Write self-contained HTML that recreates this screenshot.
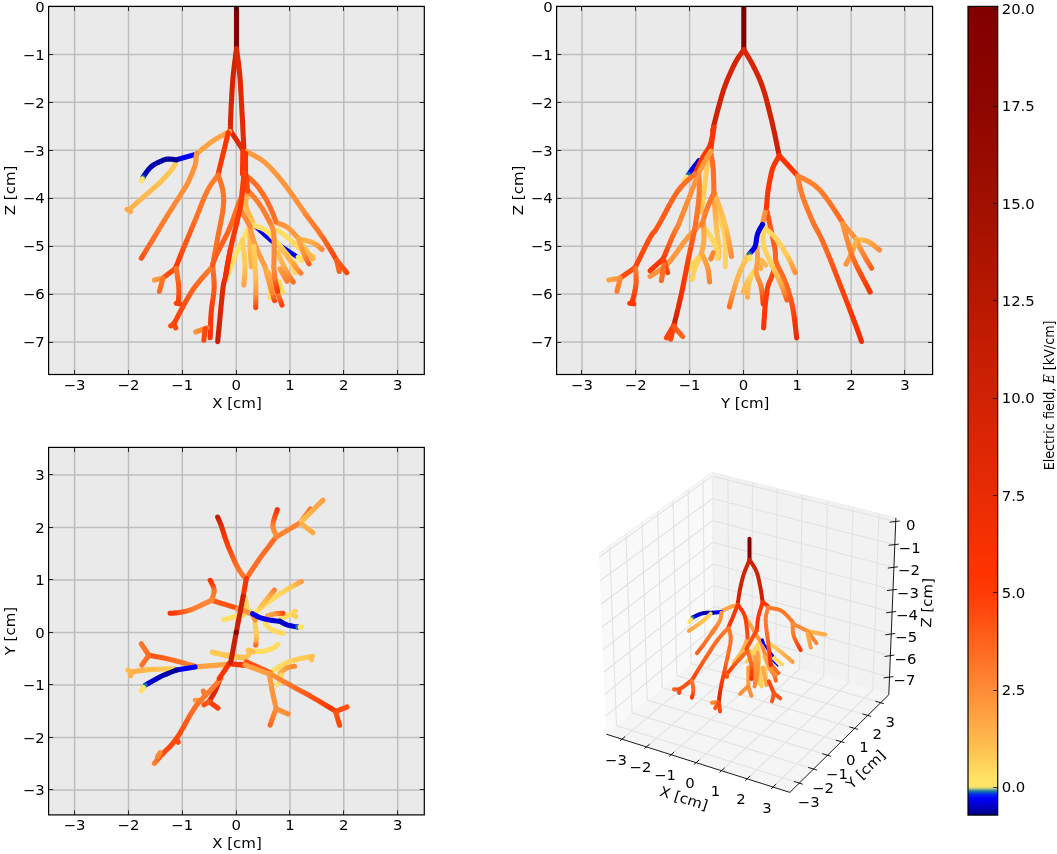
<!DOCTYPE html>
<html><head><meta charset="utf-8"><title>Streamer tree</title>
<style>
html,body{margin:0;padding:0;background:#fff}
svg{display:block}
text{font-family:"DejaVu Sans","Liberation Sans",sans-serif;font-size:13.9px;fill:#000}
.lab{font-size:14px}
</style></head><body>
<svg width="1057" height="854" viewBox="0 0 1057 854">
<defs>
<linearGradient id="g1" gradientUnits="userSpaceOnUse" x1="298.3" y1="257.1" x2="302.1" y2="260.2"><stop offset="0.000" stop-color="#ffe265"/><stop offset="0.125" stop-color="#ffe265"/><stop offset="0.250" stop-color="#ffe165"/><stop offset="0.375" stop-color="#ffe164"/><stop offset="0.500" stop-color="#ffe164"/><stop offset="0.625" stop-color="#ffe164"/><stop offset="0.750" stop-color="#ffe064"/><stop offset="0.875" stop-color="#ffe064"/><stop offset="1" stop-color="#ffe064"/></linearGradient>
<clipPath id="c2"><rect x="48.6" y="6.4" width="375.7" height="368.1"/></clipPath>
<linearGradient id="g3" gradientUnits="userSpaceOnUse" x1="236.5" y1="48.8" x2="230.2" y2="130.3"><stop offset="0.000" stop-color="#d02204"/><stop offset="0.125" stop-color="#d12204"/><stop offset="0.250" stop-color="#d22304"/><stop offset="0.375" stop-color="#d42404"/><stop offset="0.500" stop-color="#d52404"/><stop offset="0.625" stop-color="#d62404"/><stop offset="0.750" stop-color="#d72504"/><stop offset="0.875" stop-color="#d82604"/><stop offset="1" stop-color="#da2604"/></linearGradient>
<linearGradient id="g4" gradientUnits="userSpaceOnUse" x1="236.5" y1="48.8" x2="244" y2="151.6"><stop offset="0.000" stop-color="#de2804"/><stop offset="0.125" stop-color="#df2804"/><stop offset="0.250" stop-color="#e02804"/><stop offset="0.375" stop-color="#e02904"/><stop offset="0.500" stop-color="#e12904"/><stop offset="0.625" stop-color="#e12904"/><stop offset="0.750" stop-color="#e22a04"/><stop offset="0.875" stop-color="#e32a04"/><stop offset="1" stop-color="#e32a04"/></linearGradient>
<linearGradient id="g5" gradientUnits="userSpaceOnUse" x1="176.4" y1="160.3" x2="128.8" y2="209.9"><stop offset="0.000" stop-color="#ffce59"/><stop offset="0.125" stop-color="#ffca56"/><stop offset="0.250" stop-color="#ffc654"/><stop offset="0.375" stop-color="#ffc251"/><stop offset="0.500" stop-color="#ffbe4f"/><stop offset="0.625" stop-color="#ffbb4e"/><stop offset="0.750" stop-color="#ffb84c"/><stop offset="0.875" stop-color="#ffb54b"/><stop offset="1" stop-color="#ffb24a"/></linearGradient>
<linearGradient id="g6" gradientUnits="userSpaceOnUse" x1="176.4" y1="159.8" x2="143.1" y2="177.4"><stop offset="0.000" stop-color="#000095"/><stop offset="0.125" stop-color="#00009a"/><stop offset="0.250" stop-color="#0000a0"/><stop offset="0.375" stop-color="#0000a5"/><stop offset="0.500" stop-color="#0000aa"/><stop offset="0.625" stop-color="#0000b0"/><stop offset="0.750" stop-color="#0000b5"/><stop offset="0.875" stop-color="#0000bb"/><stop offset="1" stop-color="#0000c0"/></linearGradient>
<linearGradient id="g7" gradientUnits="userSpaceOnUse" x1="143.1" y1="177.4" x2="142.3" y2="178.9"><stop offset="0.000" stop-color="#1462bb"/><stop offset="0.125" stop-color="#186bb3"/><stop offset="0.250" stop-color="#1b74ab"/><stop offset="0.375" stop-color="#1e7ca3"/><stop offset="0.500" stop-color="#2c869e"/><stop offset="0.625" stop-color="#42909a"/><stop offset="0.750" stop-color="#579b96"/><stop offset="0.875" stop-color="#6da691"/><stop offset="1" stop-color="#83b08d"/></linearGradient>
<linearGradient id="g8" gradientUnits="userSpaceOnUse" x1="142.3" y1="178.9" x2="141.3" y2="180.9"><stop offset="0.000" stop-color="#ffe465"/><stop offset="0.125" stop-color="#ffe365"/><stop offset="0.250" stop-color="#ffe365"/><stop offset="0.375" stop-color="#ffe365"/><stop offset="0.500" stop-color="#ffe365"/><stop offset="0.625" stop-color="#ffe265"/><stop offset="0.750" stop-color="#ffe265"/><stop offset="0.875" stop-color="#ffe265"/><stop offset="1" stop-color="#ffe265"/></linearGradient>
<linearGradient id="g9" gradientUnits="userSpaceOnUse" x1="196.4" y1="153.8" x2="141.3" y2="258.2"><stop offset="0.000" stop-color="#ff963c"/><stop offset="0.045" stop-color="#ff963c"/><stop offset="0.089" stop-color="#ff963c"/><stop offset="0.146" stop-color="#ff943b"/><stop offset="0.203" stop-color="#ff923a"/><stop offset="0.250" stop-color="#ff9139"/><stop offset="0.298" stop-color="#ff8f38"/><stop offset="0.436" stop-color="#ff8934"/><stop offset="0.573" stop-color="#ff8230"/><stop offset="0.716" stop-color="#ff792a"/><stop offset="0.858" stop-color="#ff6e24"/><stop offset="0.929" stop-color="#ff5f1b"/><stop offset="1" stop-color="#ff5012"/></linearGradient>
<linearGradient id="g10" gradientUnits="userSpaceOnUse" x1="218.2" y1="175.1" x2="175.6" y2="267.7"><stop offset="0.000" stop-color="#ff7f2e"/><stop offset="0.088" stop-color="#ff7e2d"/><stop offset="0.177" stop-color="#ff7c2c"/><stop offset="0.336" stop-color="#ff7528"/><stop offset="0.496" stop-color="#ff6e24"/><stop offset="0.656" stop-color="#ff5d1a"/><stop offset="0.815" stop-color="#ff4d10"/><stop offset="0.908" stop-color="#ff4008"/><stop offset="1" stop-color="#ff3702"/></linearGradient>
<linearGradient id="g11" gradientUnits="userSpaceOnUse" x1="162.6" y1="278.2" x2="154.4" y2="280.1"><stop offset="0.000" stop-color="#ff8f38"/><stop offset="0.125" stop-color="#ff9139"/><stop offset="0.250" stop-color="#ff923a"/><stop offset="0.375" stop-color="#ff943b"/><stop offset="0.500" stop-color="#ff963c"/><stop offset="0.625" stop-color="#ff973d"/><stop offset="0.750" stop-color="#ff993e"/><stop offset="0.875" stop-color="#ff9a3f"/><stop offset="1" stop-color="#ff9c40"/></linearGradient>
<linearGradient id="g12" gradientUnits="userSpaceOnUse" x1="162.6" y1="279.4" x2="159.4" y2="291.3"><stop offset="0.000" stop-color="#ff7528"/><stop offset="0.125" stop-color="#ff7427"/><stop offset="0.250" stop-color="#ff7226"/><stop offset="0.375" stop-color="#ff7025"/><stop offset="0.500" stop-color="#ff6e24"/><stop offset="0.625" stop-color="#ff6d23"/><stop offset="0.750" stop-color="#ff6b22"/><stop offset="0.875" stop-color="#ff6921"/><stop offset="1" stop-color="#ff6820"/></linearGradient>
<linearGradient id="g13" gradientUnits="userSpaceOnUse" x1="176.3" y1="268.8" x2="178.2" y2="303.2"><stop offset="0.000" stop-color="#ff7528"/><stop offset="0.125" stop-color="#ff6e24"/><stop offset="0.250" stop-color="#ff6820"/><stop offset="0.375" stop-color="#ff611c"/><stop offset="0.500" stop-color="#ff5a18"/><stop offset="0.625" stop-color="#ff5414"/><stop offset="0.750" stop-color="#ff4d10"/><stop offset="0.875" stop-color="#ff470c"/><stop offset="1" stop-color="#ff4008"/></linearGradient>
<linearGradient id="g14" gradientUnits="userSpaceOnUse" x1="237.7" y1="250" x2="226.4" y2="278.8"><stop offset="0.000" stop-color="#ffe064"/><stop offset="0.125" stop-color="#ffdf64"/><stop offset="0.250" stop-color="#ffdf63"/><stop offset="0.375" stop-color="#ffde63"/><stop offset="0.500" stop-color="#ffde63"/><stop offset="0.625" stop-color="#ffdd62"/><stop offset="0.750" stop-color="#ffdd62"/><stop offset="0.875" stop-color="#ffdc62"/><stop offset="1" stop-color="#ffdb61"/></linearGradient>
<linearGradient id="g15" gradientUnits="userSpaceOnUse" x1="242.5" y1="240" x2="243.8" y2="285.1"><stop offset="0.000" stop-color="#ffd25b"/><stop offset="0.278" stop-color="#ffce59"/><stop offset="0.557" stop-color="#ffc956"/><stop offset="0.778" stop-color="#ffb54b"/><stop offset="1" stop-color="#ffa343"/></linearGradient>
<linearGradient id="g16" gradientUnits="userSpaceOnUse" x1="218.2" y1="175.1" x2="212.7" y2="265.2"><stop offset="0.000" stop-color="#ff7528"/><stop offset="0.125" stop-color="#ff7428"/><stop offset="0.250" stop-color="#ff7427"/><stop offset="0.375" stop-color="#ff7326"/><stop offset="0.500" stop-color="#ff7226"/><stop offset="0.625" stop-color="#ff7126"/><stop offset="0.750" stop-color="#ff7025"/><stop offset="0.875" stop-color="#ff6f24"/><stop offset="1" stop-color="#ff6e24"/></linearGradient>
<linearGradient id="g17" gradientUnits="userSpaceOnUse" x1="212.7" y1="266.3" x2="210.2" y2="337.7"><stop offset="0.000" stop-color="#ff7528"/><stop offset="0.125" stop-color="#ff6921"/><stop offset="0.250" stop-color="#ff5d1a"/><stop offset="0.375" stop-color="#ff5213"/><stop offset="0.500" stop-color="#ff470c"/><stop offset="0.625" stop-color="#ff3c05"/><stop offset="0.750" stop-color="#ff3602"/><stop offset="0.875" stop-color="#fd3200"/><stop offset="1" stop-color="#f93101"/></linearGradient>
<linearGradient id="g18" gradientUnits="userSpaceOnUse" x1="212.7" y1="266.3" x2="173.8" y2="323.9"><stop offset="0.000" stop-color="#ff7f2e"/><stop offset="0.125" stop-color="#ff7729"/><stop offset="0.250" stop-color="#ff6e24"/><stop offset="0.375" stop-color="#ff661f"/><stop offset="0.500" stop-color="#ff5d1a"/><stop offset="0.625" stop-color="#ff5515"/><stop offset="0.750" stop-color="#ff4d10"/><stop offset="0.875" stop-color="#ff450b"/><stop offset="1" stop-color="#ff3d06"/></linearGradient>
<linearGradient id="g19" gradientUnits="userSpaceOnUse" x1="207.6" y1="327.6" x2="195.7" y2="332"><stop offset="0.000" stop-color="#ff7c2c"/><stop offset="0.125" stop-color="#ff7f2e"/><stop offset="0.250" stop-color="#ff8230"/><stop offset="0.375" stop-color="#ff8632"/><stop offset="0.500" stop-color="#ff8934"/><stop offset="0.625" stop-color="#ff8c36"/><stop offset="0.750" stop-color="#ff8f38"/><stop offset="0.875" stop-color="#ff923a"/><stop offset="1" stop-color="#ff963c"/></linearGradient>
<linearGradient id="g20" gradientUnits="userSpaceOnUse" x1="246.3" y1="176.3" x2="212.5" y2="265.2"><stop offset="0.000" stop-color="#ff7528"/><stop offset="0.125" stop-color="#ff7226"/><stop offset="0.250" stop-color="#ff6e24"/><stop offset="0.375" stop-color="#ff6b22"/><stop offset="0.500" stop-color="#ff6820"/><stop offset="0.625" stop-color="#ff641e"/><stop offset="0.750" stop-color="#ff611c"/><stop offset="0.875" stop-color="#ff5d1a"/><stop offset="1" stop-color="#ff5a18"/></linearGradient>
<linearGradient id="g21" gradientUnits="userSpaceOnUse" x1="248.2" y1="191.9" x2="253.9" y2="225.1"><stop offset="0.000" stop-color="#ffaa46"/><stop offset="0.125" stop-color="#ffae48"/><stop offset="0.250" stop-color="#ffb149"/><stop offset="0.375" stop-color="#ffb44b"/><stop offset="0.500" stop-color="#ffb74c"/><stop offset="0.625" stop-color="#ffba4d"/><stop offset="0.750" stop-color="#ffbd4f"/><stop offset="0.875" stop-color="#ffc150"/><stop offset="1" stop-color="#ffc553"/></linearGradient>
<linearGradient id="g22" gradientUnits="userSpaceOnUse" x1="287.6" y1="255.2" x2="295.1" y2="272.6"><stop offset="0.000" stop-color="#ffe064"/><stop offset="0.125" stop-color="#ffdf63"/><stop offset="0.250" stop-color="#ffde63"/><stop offset="0.375" stop-color="#ffdd62"/><stop offset="0.500" stop-color="#ffdb61"/><stop offset="0.625" stop-color="#ffda60"/><stop offset="0.750" stop-color="#ffd960"/><stop offset="0.875" stop-color="#ffd85f"/><stop offset="1" stop-color="#ffd75e"/></linearGradient>
<linearGradient id="g23" gradientUnits="userSpaceOnUse" x1="277.6" y1="230.1" x2="313.3" y2="256.4"><stop offset="0.000" stop-color="#ffe064"/><stop offset="0.125" stop-color="#ffde63"/><stop offset="0.250" stop-color="#ffdd62"/><stop offset="0.375" stop-color="#ffdb61"/><stop offset="0.500" stop-color="#ffd960"/><stop offset="0.625" stop-color="#ffd75f"/><stop offset="0.750" stop-color="#ffd65e"/><stop offset="0.875" stop-color="#ffd45c"/><stop offset="1" stop-color="#ffd25b"/></linearGradient>
<linearGradient id="g24" gradientUnits="userSpaceOnUse" x1="302.7" y1="245.2" x2="312.7" y2="258.9"><stop offset="0.000" stop-color="#ffc553"/><stop offset="0.125" stop-color="#ffc251"/><stop offset="0.250" stop-color="#ffbf50"/><stop offset="0.375" stop-color="#ffbd4f"/><stop offset="0.500" stop-color="#ffbb4e"/><stop offset="0.625" stop-color="#ffb84d"/><stop offset="0.750" stop-color="#ffb64c"/><stop offset="0.875" stop-color="#ffb44b"/><stop offset="1" stop-color="#ffb24a"/></linearGradient>
<linearGradient id="g25" gradientUnits="userSpaceOnUse" x1="250.1" y1="230.1" x2="251.3" y2="267"><stop offset="0.000" stop-color="#ffc050"/><stop offset="0.125" stop-color="#ffbe4f"/><stop offset="0.250" stop-color="#ffbc4e"/><stop offset="0.375" stop-color="#ffb94d"/><stop offset="0.500" stop-color="#ffb74c"/><stop offset="0.625" stop-color="#ffb54b"/><stop offset="0.750" stop-color="#ffb24a"/><stop offset="0.875" stop-color="#ffb049"/><stop offset="1" stop-color="#ffae48"/></linearGradient>
<linearGradient id="g26" gradientUnits="userSpaceOnUse" x1="265.1" y1="266.9" x2="274.5" y2="300.7"><stop offset="0.000" stop-color="#ffa343"/><stop offset="0.212" stop-color="#ffa042"/><stop offset="0.424" stop-color="#ff9c40"/><stop offset="0.610" stop-color="#ff8f38"/><stop offset="0.797" stop-color="#ff8230"/><stop offset="0.898" stop-color="#ff641e"/><stop offset="1" stop-color="#ff470c"/></linearGradient>
<linearGradient id="g27" gradientUnits="userSpaceOnUse" x1="253.8" y1="246.3" x2="255.7" y2="307.6"><stop offset="0.000" stop-color="#ffce59"/><stop offset="0.255" stop-color="#ffc754"/><stop offset="0.511" stop-color="#ffc050"/><stop offset="0.643" stop-color="#ffaa46"/><stop offset="0.776" stop-color="#ff963c"/><stop offset="0.888" stop-color="#ff6e24"/><stop offset="1" stop-color="#ff470c"/></linearGradient>
<linearGradient id="g28" gradientUnits="userSpaceOnUse" x1="267.6" y1="271.3" x2="282" y2="305.1"><stop offset="0.000" stop-color="#ffb24a"/><stop offset="0.282" stop-color="#ffa042"/><stop offset="0.564" stop-color="#ff8f38"/><stop offset="0.782" stop-color="#ff6820"/><stop offset="1" stop-color="#ff4008"/></linearGradient>
<linearGradient id="g29" gradientUnits="userSpaceOnUse" x1="280.1" y1="247.5" x2="300.8" y2="273.2"><stop offset="0.000" stop-color="#ffc553"/><stop offset="0.243" stop-color="#ffbb4e"/><stop offset="0.487" stop-color="#ffb24a"/><stop offset="0.743" stop-color="#ff993e"/><stop offset="1" stop-color="#ff8230"/></linearGradient>
<linearGradient id="g30" gradientUnits="userSpaceOnUse" x1="277.6" y1="252.5" x2="293.2" y2="282"><stop offset="0.000" stop-color="#ffc553"/><stop offset="0.269" stop-color="#ffb74c"/><stop offset="0.537" stop-color="#ffaa46"/><stop offset="0.769" stop-color="#ff8c36"/><stop offset="1" stop-color="#ff6e24"/></linearGradient>
<linearGradient id="g31" gradientUnits="userSpaceOnUse" x1="280.1" y1="268.8" x2="287" y2="281.3"><stop offset="0.000" stop-color="#ff9c40"/><stop offset="0.125" stop-color="#ff983e"/><stop offset="0.250" stop-color="#ff943b"/><stop offset="0.375" stop-color="#ff9038"/><stop offset="0.500" stop-color="#ff8c36"/><stop offset="0.625" stop-color="#ff8834"/><stop offset="0.750" stop-color="#ff8431"/><stop offset="0.875" stop-color="#ff802e"/><stop offset="1" stop-color="#ff7c2c"/></linearGradient>
<linearGradient id="g32" gradientUnits="userSpaceOnUse" x1="276.4" y1="222.6" x2="298.9" y2="238.9"><stop offset="0.000" stop-color="#ff963c"/><stop offset="0.125" stop-color="#ff963c"/><stop offset="0.250" stop-color="#ff973d"/><stop offset="0.375" stop-color="#ff983e"/><stop offset="0.500" stop-color="#ff993e"/><stop offset="0.625" stop-color="#ff9a3e"/><stop offset="0.750" stop-color="#ff9a3f"/><stop offset="0.875" stop-color="#ff9b40"/><stop offset="1" stop-color="#ff9c40"/></linearGradient>
<linearGradient id="g33" gradientUnits="userSpaceOnUse" x1="298.9" y1="238.9" x2="322.1" y2="249.5"><stop offset="0.000" stop-color="#ffb24a"/><stop offset="0.276" stop-color="#ffb049"/><stop offset="0.552" stop-color="#ffae48"/><stop offset="0.776" stop-color="#ff9a3f"/><stop offset="1" stop-color="#ff8934"/></linearGradient>
<linearGradient id="g34" gradientUnits="userSpaceOnUse" x1="298.9" y1="240.2" x2="309" y2="263.9"><stop offset="0.000" stop-color="#ffa343"/><stop offset="0.284" stop-color="#ff9c40"/><stop offset="0.567" stop-color="#ff963c"/><stop offset="0.784" stop-color="#ff792a"/><stop offset="1" stop-color="#ff5a18"/></linearGradient>
<linearGradient id="g35" gradientUnits="userSpaceOnUse" x1="270.1" y1="222.6" x2="273.9" y2="267"><stop offset="0.000" stop-color="#ff8f38"/><stop offset="0.125" stop-color="#ff8e38"/><stop offset="0.250" stop-color="#ff8e37"/><stop offset="0.375" stop-color="#ff8d36"/><stop offset="0.500" stop-color="#ff8c36"/><stop offset="0.625" stop-color="#ff8b36"/><stop offset="0.750" stop-color="#ff8a35"/><stop offset="0.875" stop-color="#ff8a34"/><stop offset="1" stop-color="#ff8934"/></linearGradient>
<linearGradient id="g36" gradientUnits="userSpaceOnUse" x1="273.8" y1="266.9" x2="277.6" y2="291.3"><stop offset="0.000" stop-color="#ff8f38"/><stop offset="0.216" stop-color="#ff8632"/><stop offset="0.432" stop-color="#ff7c2c"/><stop offset="0.716" stop-color="#ff5012"/><stop offset="1" stop-color="#fe3300"/></linearGradient>
<linearGradient id="g37" gradientUnits="userSpaceOnUse" x1="246.5" y1="151.6" x2="305.4" y2="213.9"><stop offset="0.000" stop-color="#ff9c40"/><stop offset="0.125" stop-color="#ff9a3f"/><stop offset="0.250" stop-color="#ff993e"/><stop offset="0.375" stop-color="#ff973d"/><stop offset="0.500" stop-color="#ff963c"/><stop offset="0.625" stop-color="#ff943b"/><stop offset="0.750" stop-color="#ff923a"/><stop offset="0.875" stop-color="#ff9139"/><stop offset="1" stop-color="#ff8f38"/></linearGradient>
<linearGradient id="g38" gradientUnits="userSpaceOnUse" x1="305.4" y1="213.9" x2="336.7" y2="260.2"><stop offset="0.000" stop-color="#ff8934"/><stop offset="0.264" stop-color="#ff7c2c"/><stop offset="0.528" stop-color="#ff6e24"/><stop offset="0.764" stop-color="#ff5414"/><stop offset="1" stop-color="#ff3a04"/></linearGradient>
<linearGradient id="g39" gradientUnits="userSpaceOnUse" x1="336.7" y1="260.2" x2="339.2" y2="271.5"><stop offset="0.000" stop-color="#ff6e24"/><stop offset="0.125" stop-color="#ff6d23"/><stop offset="0.250" stop-color="#ff6b22"/><stop offset="0.375" stop-color="#ff6921"/><stop offset="0.500" stop-color="#ff6820"/><stop offset="0.625" stop-color="#ff661f"/><stop offset="0.750" stop-color="#ff641e"/><stop offset="0.875" stop-color="#ff621d"/><stop offset="1" stop-color="#ff611c"/></linearGradient>
<linearGradient id="g40" gradientUnits="userSpaceOnUse" x1="336.7" y1="260.2" x2="346.7" y2="272.7"><stop offset="0.000" stop-color="#ff611c"/><stop offset="0.125" stop-color="#ff5d1a"/><stop offset="0.250" stop-color="#ff5a18"/><stop offset="0.375" stop-color="#ff5716"/><stop offset="0.500" stop-color="#ff5414"/><stop offset="0.625" stop-color="#ff5012"/><stop offset="0.750" stop-color="#ff4d10"/><stop offset="0.875" stop-color="#ff4a0e"/><stop offset="1" stop-color="#ff470c"/></linearGradient>
<linearGradient id="g41" gradientUnits="userSpaceOnUse" x1="244" y1="172.5" x2="225.7" y2="275.3"><stop offset="0.000" stop-color="#ff4008"/><stop offset="0.125" stop-color="#ff3d06"/><stop offset="0.250" stop-color="#ff3a04"/><stop offset="0.375" stop-color="#ff3903"/><stop offset="0.500" stop-color="#ff3702"/><stop offset="0.625" stop-color="#ff3602"/><stop offset="0.750" stop-color="#ff3401"/><stop offset="0.875" stop-color="#ff3300"/><stop offset="1" stop-color="#fe3300"/></linearGradient>
<linearGradient id="g42" gradientUnits="userSpaceOnUse" x1="230.2" y1="250.2" x2="217.7" y2="341.6"><stop offset="0.000" stop-color="#ff3401"/><stop offset="0.125" stop-color="#f83101"/><stop offset="0.250" stop-color="#f02e03"/><stop offset="0.375" stop-color="#e82c04"/><stop offset="0.500" stop-color="#e12904"/><stop offset="0.625" stop-color="#db2604"/><stop offset="0.750" stop-color="#d42404"/><stop offset="0.875" stop-color="#cd2104"/><stop offset="1" stop-color="#c61e02"/></linearGradient>
<clipPath id="c43"><rect x="556.6" y="6.4" width="376" height="368.1"/></clipPath>
<linearGradient id="g44" gradientUnits="userSpaceOnUse" x1="710.8" y1="151.3" x2="700.7" y2="212"><stop offset="0.000" stop-color="#ffc050"/><stop offset="0.084" stop-color="#ffc553"/><stop offset="0.169" stop-color="#ffc956"/><stop offset="0.343" stop-color="#ffcb57"/><stop offset="0.517" stop-color="#ffce59"/><stop offset="0.671" stop-color="#ffcb57"/><stop offset="0.824" stop-color="#ffc956"/><stop offset="0.912" stop-color="#ffc050"/><stop offset="1" stop-color="#ffb94d"/></linearGradient>
<linearGradient id="g45" gradientUnits="userSpaceOnUse" x1="714.5" y1="193.9" x2="725.3" y2="266.5"><stop offset="0.000" stop-color="#ffb94d"/><stop offset="0.096" stop-color="#ffbe4f"/><stop offset="0.192" stop-color="#ffc553"/><stop offset="0.327" stop-color="#ffcb57"/><stop offset="0.462" stop-color="#ffd25b"/><stop offset="0.554" stop-color="#ffd35c"/><stop offset="0.645" stop-color="#ffd55d"/><stop offset="0.823" stop-color="#ffd35c"/><stop offset="1" stop-color="#ffd25b"/></linearGradient>
<linearGradient id="g46" gradientUnits="userSpaceOnUse" x1="713.9" y1="195.1" x2="718.3" y2="257.7"><stop offset="0.000" stop-color="#ff963c"/><stop offset="0.254" stop-color="#ffaa46"/><stop offset="0.509" stop-color="#ffc050"/><stop offset="0.655" stop-color="#ffc553"/><stop offset="0.801" stop-color="#ffc956"/><stop offset="0.901" stop-color="#ffbc4e"/><stop offset="1" stop-color="#ffb24a"/></linearGradient>
<linearGradient id="g47" gradientUnits="userSpaceOnUse" x1="715.3" y1="195.1" x2="731.5" y2="256.5"><stop offset="0.000" stop-color="#ffb24a"/><stop offset="0.249" stop-color="#ffbb4e"/><stop offset="0.498" stop-color="#ffc553"/><stop offset="0.749" stop-color="#ffa544"/><stop offset="1" stop-color="#ff8934"/></linearGradient>
<linearGradient id="g48" gradientUnits="userSpaceOnUse" x1="713.3" y1="252.6" x2="710.8" y2="258.8"><stop offset="0.000" stop-color="#ff8934"/><stop offset="0.125" stop-color="#ff8834"/><stop offset="0.250" stop-color="#ff8733"/><stop offset="0.375" stop-color="#ff8632"/><stop offset="0.500" stop-color="#ff8632"/><stop offset="0.625" stop-color="#ff8532"/><stop offset="0.750" stop-color="#ff8431"/><stop offset="0.875" stop-color="#ff8330"/><stop offset="1" stop-color="#ff8230"/></linearGradient>
<linearGradient id="g49" gradientUnits="userSpaceOnUse" x1="703.3" y1="223.8" x2="701.4" y2="253.8"><stop offset="0.000" stop-color="#ffa745"/><stop offset="0.125" stop-color="#ffa845"/><stop offset="0.250" stop-color="#ffa946"/><stop offset="0.375" stop-color="#ffaa46"/><stop offset="0.500" stop-color="#ffaa46"/><stop offset="0.625" stop-color="#ffab47"/><stop offset="0.750" stop-color="#ffac47"/><stop offset="0.875" stop-color="#ffad48"/><stop offset="1" stop-color="#ffae48"/></linearGradient>
<linearGradient id="g50" gradientUnits="userSpaceOnUse" x1="702.1" y1="254.4" x2="709.6" y2="282"><stop offset="0.000" stop-color="#ffaa46"/><stop offset="0.125" stop-color="#ffa544"/><stop offset="0.250" stop-color="#ffa042"/><stop offset="0.375" stop-color="#ff9a3f"/><stop offset="0.500" stop-color="#ff963c"/><stop offset="0.625" stop-color="#ff9139"/><stop offset="0.750" stop-color="#ff8c36"/><stop offset="0.875" stop-color="#ff8733"/><stop offset="1" stop-color="#ff8230"/></linearGradient>
<linearGradient id="g51" gradientUnits="userSpaceOnUse" x1="698.9" y1="160.7" x2="688.6" y2="174.6"><stop offset="0.000" stop-color="#0000ce"/><stop offset="0.125" stop-color="#0000d3"/><stop offset="0.250" stop-color="#0000d8"/><stop offset="0.375" stop-color="#0000dd"/><stop offset="0.500" stop-color="#0000e2"/><stop offset="0.625" stop-color="#0000e7"/><stop offset="0.750" stop-color="#0000ed"/><stop offset="0.875" stop-color="#0000f2"/><stop offset="1" stop-color="#0000f7"/></linearGradient>
<linearGradient id="g52" gradientUnits="userSpaceOnUse" x1="688.6" y1="174.6" x2="687.3" y2="176.6"><stop offset="0.000" stop-color="#1462bb"/><stop offset="0.125" stop-color="#196eb0"/><stop offset="0.250" stop-color="#1e7ba4"/><stop offset="0.375" stop-color="#32899c"/><stop offset="0.500" stop-color="#519897"/><stop offset="0.625" stop-color="#70a791"/><stop offset="0.750" stop-color="#8fb68b"/><stop offset="0.875" stop-color="#aec585"/><stop offset="1" stop-color="#c3ce7e"/></linearGradient>
<linearGradient id="g53" gradientUnits="userSpaceOnUse" x1="687" y1="177.4" x2="683.8" y2="181"><stop offset="0.000" stop-color="#ffe265"/><stop offset="0.125" stop-color="#ffe265"/><stop offset="0.250" stop-color="#ffe165"/><stop offset="0.375" stop-color="#ffe164"/><stop offset="0.500" stop-color="#ffe164"/><stop offset="0.625" stop-color="#ffe164"/><stop offset="0.750" stop-color="#ffe064"/><stop offset="0.875" stop-color="#ffe064"/><stop offset="1" stop-color="#ffe064"/></linearGradient>
<linearGradient id="g54" gradientUnits="userSpaceOnUse" x1="702.7" y1="222.5" x2="650.1" y2="276.4"><stop offset="0.000" stop-color="#ffa042"/><stop offset="0.125" stop-color="#ff9e41"/><stop offset="0.250" stop-color="#ff9c40"/><stop offset="0.375" stop-color="#ff9a3f"/><stop offset="0.500" stop-color="#ff993e"/><stop offset="0.625" stop-color="#ff973d"/><stop offset="0.750" stop-color="#ff963c"/><stop offset="0.875" stop-color="#ff943b"/><stop offset="1" stop-color="#ff923a"/></linearGradient>
<linearGradient id="g55" gradientUnits="userSpaceOnUse" x1="743.8" y1="49.6" x2="712.7" y2="130.3"><stop offset="0.000" stop-color="#d52404"/><stop offset="0.125" stop-color="#d42404"/><stop offset="0.250" stop-color="#d42404"/><stop offset="0.375" stop-color="#d32304"/><stop offset="0.500" stop-color="#d22304"/><stop offset="0.625" stop-color="#d22304"/><stop offset="0.750" stop-color="#d12204"/><stop offset="0.875" stop-color="#d12204"/><stop offset="1" stop-color="#d02204"/></linearGradient>
<linearGradient id="g56" gradientUnits="userSpaceOnUse" x1="743.8" y1="49.6" x2="779.1" y2="155.3"><stop offset="0.000" stop-color="#da2604"/><stop offset="0.125" stop-color="#d82504"/><stop offset="0.250" stop-color="#d62404"/><stop offset="0.375" stop-color="#d42404"/><stop offset="0.500" stop-color="#d22304"/><stop offset="0.625" stop-color="#d12204"/><stop offset="0.750" stop-color="#cf2204"/><stop offset="0.875" stop-color="#cd2104"/><stop offset="1" stop-color="#cb2003"/></linearGradient>
<linearGradient id="g57" gradientUnits="userSpaceOnUse" x1="677.4" y1="226.9" x2="663.2" y2="258.8"><stop offset="0.000" stop-color="#ff7f2e"/><stop offset="0.125" stop-color="#ff7729"/><stop offset="0.250" stop-color="#ff6e24"/><stop offset="0.375" stop-color="#ff661f"/><stop offset="0.500" stop-color="#ff5d1a"/><stop offset="0.625" stop-color="#ff5515"/><stop offset="0.750" stop-color="#ff4d10"/><stop offset="0.875" stop-color="#ff450b"/><stop offset="1" stop-color="#ff3d06"/></linearGradient>
<linearGradient id="g58" gradientUnits="userSpaceOnUse" x1="713.9" y1="192.6" x2="702" y2="225.2"><stop offset="0.000" stop-color="#ff7528"/><stop offset="0.125" stop-color="#ff7729"/><stop offset="0.250" stop-color="#ff792a"/><stop offset="0.375" stop-color="#ff7a2b"/><stop offset="0.500" stop-color="#ff7c2c"/><stop offset="0.625" stop-color="#ff7e2d"/><stop offset="0.750" stop-color="#ff7f2e"/><stop offset="0.875" stop-color="#ff812f"/><stop offset="1" stop-color="#ff8230"/></linearGradient>
<linearGradient id="g59" gradientUnits="userSpaceOnUse" x1="698.9" y1="175.1" x2="673.9" y2="325.4"><stop offset="0.000" stop-color="#ff8230"/><stop offset="0.065" stop-color="#ff7f2e"/><stop offset="0.130" stop-color="#ff7c2c"/><stop offset="0.235" stop-color="#ff7528"/><stop offset="0.340" stop-color="#ff6e24"/><stop offset="0.418" stop-color="#ff5d1a"/><stop offset="0.496" stop-color="#ff4d10"/><stop offset="0.621" stop-color="#ff3a04"/><stop offset="0.747" stop-color="#fe3300"/><stop offset="0.815" stop-color="#f02e03"/><stop offset="0.882" stop-color="#e32a04"/><stop offset="0.941" stop-color="#d52404"/><stop offset="1" stop-color="#c61e02"/></linearGradient>
<linearGradient id="g60" gradientUnits="userSpaceOnUse" x1="673.9" y1="325.4" x2="666.4" y2="337.9"><stop offset="0.000" stop-color="#ff3a04"/><stop offset="0.125" stop-color="#ff3c05"/><stop offset="0.250" stop-color="#ff3d06"/><stop offset="0.375" stop-color="#ff3f07"/><stop offset="0.500" stop-color="#ff4008"/><stop offset="0.625" stop-color="#ff4209"/><stop offset="0.750" stop-color="#ff440a"/><stop offset="0.875" stop-color="#ff450b"/><stop offset="1" stop-color="#ff470c"/></linearGradient>
<linearGradient id="g61" gradientUnits="userSpaceOnUse" x1="673.9" y1="325.4" x2="670.7" y2="339.1"><stop offset="0.000" stop-color="#ff3a04"/><stop offset="0.125" stop-color="#ff3c05"/><stop offset="0.250" stop-color="#ff3d06"/><stop offset="0.375" stop-color="#ff3f07"/><stop offset="0.500" stop-color="#ff4008"/><stop offset="0.625" stop-color="#ff4209"/><stop offset="0.750" stop-color="#ff440a"/><stop offset="0.875" stop-color="#ff450b"/><stop offset="1" stop-color="#ff470c"/></linearGradient>
<linearGradient id="g62" gradientUnits="userSpaceOnUse" x1="673.9" y1="326.6" x2="682.7" y2="336.6"><stop offset="0.000" stop-color="#ff5414"/><stop offset="0.125" stop-color="#ff5616"/><stop offset="0.250" stop-color="#ff5817"/><stop offset="0.375" stop-color="#ff5b18"/><stop offset="0.500" stop-color="#ff5d1a"/><stop offset="0.625" stop-color="#ff601b"/><stop offset="0.750" stop-color="#ff621d"/><stop offset="0.875" stop-color="#ff651f"/><stop offset="1" stop-color="#ff6820"/></linearGradient>
<linearGradient id="g63" gradientUnits="userSpaceOnUse" x1="710.8" y1="151.3" x2="677.6" y2="227"><stop offset="0.000" stop-color="#ffa042"/><stop offset="0.125" stop-color="#ff9c40"/><stop offset="0.250" stop-color="#ff993e"/><stop offset="0.375" stop-color="#ff963c"/><stop offset="0.500" stop-color="#ff923a"/><stop offset="0.625" stop-color="#ff8f38"/><stop offset="0.750" stop-color="#ff8c36"/><stop offset="0.875" stop-color="#ff8934"/><stop offset="1" stop-color="#ff8632"/></linearGradient>
<linearGradient id="g64" gradientUnits="userSpaceOnUse" x1="695.1" y1="173.9" x2="635.1" y2="267.6"><stop offset="0.000" stop-color="#ff7528"/><stop offset="0.125" stop-color="#ff6e24"/><stop offset="0.250" stop-color="#ff6820"/><stop offset="0.375" stop-color="#ff611c"/><stop offset="0.500" stop-color="#ff5a18"/><stop offset="0.625" stop-color="#ff5414"/><stop offset="0.750" stop-color="#ff4d10"/><stop offset="0.875" stop-color="#ff470c"/><stop offset="1" stop-color="#ff4008"/></linearGradient>
<linearGradient id="g65" gradientUnits="userSpaceOnUse" x1="620" y1="278.2" x2="608.8" y2="280.1"><stop offset="0.000" stop-color="#ff963c"/><stop offset="0.125" stop-color="#ff973d"/><stop offset="0.250" stop-color="#ff993e"/><stop offset="0.375" stop-color="#ff9a3f"/><stop offset="0.500" stop-color="#ff9c40"/><stop offset="0.625" stop-color="#ff9e41"/><stop offset="0.750" stop-color="#ffa042"/><stop offset="0.875" stop-color="#ffa142"/><stop offset="1" stop-color="#ffa343"/></linearGradient>
<linearGradient id="g66" gradientUnits="userSpaceOnUse" x1="620" y1="279.5" x2="616.9" y2="291.4"><stop offset="0.000" stop-color="#ff8934"/><stop offset="0.125" stop-color="#ff8733"/><stop offset="0.250" stop-color="#ff8632"/><stop offset="0.375" stop-color="#ff8431"/><stop offset="0.500" stop-color="#ff8230"/><stop offset="0.625" stop-color="#ff812f"/><stop offset="0.750" stop-color="#ff7f2e"/><stop offset="0.875" stop-color="#ff7e2d"/><stop offset="1" stop-color="#ff7c2c"/></linearGradient>
<linearGradient id="g67" gradientUnits="userSpaceOnUse" x1="635.7" y1="268.9" x2="631.9" y2="303.3"><stop offset="0.000" stop-color="#ff7c2c"/><stop offset="0.125" stop-color="#ff7226"/><stop offset="0.250" stop-color="#ff6820"/><stop offset="0.375" stop-color="#ff5d1a"/><stop offset="0.500" stop-color="#ff5414"/><stop offset="0.625" stop-color="#ff4a0e"/><stop offset="0.750" stop-color="#ff4008"/><stop offset="0.875" stop-color="#ff3903"/><stop offset="1" stop-color="#ff3401"/></linearGradient>
<linearGradient id="g68" gradientUnits="userSpaceOnUse" x1="797.6" y1="175.7" x2="842.7" y2="222.7"><stop offset="0.000" stop-color="#ff8934"/><stop offset="0.125" stop-color="#ff8532"/><stop offset="0.250" stop-color="#ff812f"/><stop offset="0.375" stop-color="#ff7d2c"/><stop offset="0.500" stop-color="#ff792a"/><stop offset="0.625" stop-color="#ff7428"/><stop offset="0.750" stop-color="#ff7025"/><stop offset="0.875" stop-color="#ff6c22"/><stop offset="1" stop-color="#ff6820"/></linearGradient>
<linearGradient id="g69" gradientUnits="userSpaceOnUse" x1="797.6" y1="176.3" x2="861.5" y2="341.5"><stop offset="0.000" stop-color="#ff8230"/><stop offset="0.058" stop-color="#ff7f2e"/><stop offset="0.116" stop-color="#ff7c2c"/><stop offset="0.192" stop-color="#ff792a"/><stop offset="0.268" stop-color="#ff7528"/><stop offset="0.348" stop-color="#ff6e24"/><stop offset="0.428" stop-color="#ff6820"/><stop offset="0.640" stop-color="#ff470c"/><stop offset="0.853" stop-color="#fe3300"/><stop offset="0.926" stop-color="#f73101"/><stop offset="1" stop-color="#f02e03"/></linearGradient>
<linearGradient id="g70" gradientUnits="userSpaceOnUse" x1="842.6" y1="223.1" x2="856.4" y2="239.4"><stop offset="0.000" stop-color="#ff8f38"/><stop offset="0.125" stop-color="#ff9038"/><stop offset="0.250" stop-color="#ff9139"/><stop offset="0.375" stop-color="#ff923a"/><stop offset="0.500" stop-color="#ff923a"/><stop offset="0.625" stop-color="#ff933a"/><stop offset="0.750" stop-color="#ff943b"/><stop offset="0.875" stop-color="#ff953c"/><stop offset="1" stop-color="#ff963c"/></linearGradient>
<linearGradient id="g71" gradientUnits="userSpaceOnUse" x1="856.4" y1="239.4" x2="879.5" y2="250.1"><stop offset="0.000" stop-color="#ffc553"/><stop offset="0.125" stop-color="#ffbd4f"/><stop offset="0.250" stop-color="#ffb64c"/><stop offset="0.375" stop-color="#ffaf49"/><stop offset="0.500" stop-color="#ffa946"/><stop offset="0.625" stop-color="#ffa243"/><stop offset="0.750" stop-color="#ff9b40"/><stop offset="0.875" stop-color="#ff953c"/><stop offset="1" stop-color="#ff8f38"/></linearGradient>
<linearGradient id="g72" gradientUnits="userSpaceOnUse" x1="856.4" y1="240.7" x2="871.6" y2="268.2"><stop offset="0.000" stop-color="#ffa343"/><stop offset="0.125" stop-color="#ff9a3f"/><stop offset="0.250" stop-color="#ff923a"/><stop offset="0.375" stop-color="#ff8a35"/><stop offset="0.500" stop-color="#ff8230"/><stop offset="0.625" stop-color="#ff7a2b"/><stop offset="0.750" stop-color="#ff7226"/><stop offset="0.875" stop-color="#ff6921"/><stop offset="1" stop-color="#ff611c"/></linearGradient>
<linearGradient id="g73" gradientUnits="userSpaceOnUse" x1="855.7" y1="242.6" x2="846.1" y2="264.1"><stop offset="0.000" stop-color="#ffb54b"/><stop offset="0.125" stop-color="#ffb049"/><stop offset="0.250" stop-color="#ffab47"/><stop offset="0.375" stop-color="#ffa645"/><stop offset="0.500" stop-color="#ffa142"/><stop offset="0.625" stop-color="#ff9c40"/><stop offset="0.750" stop-color="#ff983e"/><stop offset="0.875" stop-color="#ff943b"/><stop offset="1" stop-color="#ff8f38"/></linearGradient>
<linearGradient id="g74" gradientUnits="userSpaceOnUse" x1="842.6" y1="223.8" x2="870.1" y2="292"><stop offset="0.000" stop-color="#ff963c"/><stop offset="0.123" stop-color="#ff8f38"/><stop offset="0.246" stop-color="#ff8934"/><stop offset="0.381" stop-color="#ff7c2c"/><stop offset="0.515" stop-color="#ff6e24"/><stop offset="0.757" stop-color="#ff4a0e"/><stop offset="1" stop-color="#fe3300"/></linearGradient>
<linearGradient id="g75" gradientUnits="userSpaceOnUse" x1="755.1" y1="270.1" x2="743.2" y2="292"><stop offset="0.000" stop-color="#ffd75e"/><stop offset="0.125" stop-color="#ffd25b"/><stop offset="0.250" stop-color="#ffce59"/><stop offset="0.375" stop-color="#ffc956"/><stop offset="0.500" stop-color="#ffc553"/><stop offset="0.625" stop-color="#ffc050"/><stop offset="0.750" stop-color="#ffbc4e"/><stop offset="0.875" stop-color="#ffb94d"/><stop offset="1" stop-color="#ffb54b"/></linearGradient>
<linearGradient id="g76" gradientUnits="userSpaceOnUse" x1="751.3" y1="275.1" x2="747.6" y2="297.1"><stop offset="0.000" stop-color="#ffd75e"/><stop offset="0.125" stop-color="#ffd15b"/><stop offset="0.250" stop-color="#ffcb57"/><stop offset="0.375" stop-color="#ffc654"/><stop offset="0.500" stop-color="#ffc050"/><stop offset="0.625" stop-color="#ffbc4e"/><stop offset="0.750" stop-color="#ffb74c"/><stop offset="0.875" stop-color="#ffb24a"/><stop offset="1" stop-color="#ffae48"/></linearGradient>
<linearGradient id="g77" gradientUnits="userSpaceOnUse" x1="748.8" y1="253.9" x2="729.4" y2="307"><stop offset="0.000" stop-color="#ffc956"/><stop offset="0.172" stop-color="#ffc251"/><stop offset="0.345" stop-color="#ffbc4e"/><stop offset="0.520" stop-color="#ffb049"/><stop offset="0.695" stop-color="#ffa343"/><stop offset="0.847" stop-color="#ff8934"/><stop offset="1" stop-color="#ff6e24"/></linearGradient>
<linearGradient id="g78" gradientUnits="userSpaceOnUse" x1="757" y1="247.6" x2="763.2" y2="303.9"><stop offset="0.000" stop-color="#ffa343"/><stop offset="0.110" stop-color="#ffa142"/><stop offset="0.221" stop-color="#ffa042"/><stop offset="0.329" stop-color="#ff9e41"/><stop offset="0.438" stop-color="#ff9c40"/><stop offset="0.574" stop-color="#ff8c36"/><stop offset="0.711" stop-color="#ff7c2c"/><stop offset="0.855" stop-color="#ff5716"/><stop offset="1" stop-color="#ff3702"/></linearGradient>
<linearGradient id="g79" gradientUnits="userSpaceOnUse" x1="774.6" y1="268.3" x2="763.6" y2="327.9"><stop offset="0.000" stop-color="#ff4d10"/><stop offset="0.125" stop-color="#ff480d"/><stop offset="0.250" stop-color="#ff440a"/><stop offset="0.375" stop-color="#ff3f07"/><stop offset="0.500" stop-color="#ff3a04"/><stop offset="0.625" stop-color="#ff3803"/><stop offset="0.750" stop-color="#ff3602"/><stop offset="0.875" stop-color="#ff3400"/><stop offset="1" stop-color="#fe3300"/></linearGradient>
<linearGradient id="g80" gradientUnits="userSpaceOnUse" x1="767" y1="211.3" x2="796.7" y2="337.9"><stop offset="0.000" stop-color="#ff4d10"/><stop offset="0.079" stop-color="#ff5414"/><stop offset="0.158" stop-color="#ff5a18"/><stop offset="0.231" stop-color="#ff5d1a"/><stop offset="0.305" stop-color="#ff611c"/><stop offset="0.353" stop-color="#ff641e"/><stop offset="0.401" stop-color="#ff6820"/><stop offset="0.479" stop-color="#ff6b22"/><stop offset="0.557" stop-color="#ff6e24"/><stop offset="0.659" stop-color="#ff5d1a"/><stop offset="0.761" stop-color="#ff4d10"/><stop offset="0.881" stop-color="#fa3101"/><stop offset="1" stop-color="#e82c04"/></linearGradient>
<linearGradient id="g81" gradientUnits="userSpaceOnUse" x1="763.2" y1="226.9" x2="795.2" y2="272.6"><stop offset="0.000" stop-color="#ffd75e"/><stop offset="0.139" stop-color="#ffd65e"/><stop offset="0.279" stop-color="#ffd55d"/><stop offset="0.481" stop-color="#ffcf59"/><stop offset="0.683" stop-color="#ffc956"/><stop offset="0.842" stop-color="#ffaa46"/><stop offset="1" stop-color="#ff8f38"/></linearGradient>
<linearGradient id="g82" gradientUnits="userSpaceOnUse" x1="763.2" y1="228.8" x2="787" y2="300.2"><stop offset="0.000" stop-color="#ffd75e"/><stop offset="0.112" stop-color="#ffd65e"/><stop offset="0.224" stop-color="#ffd55d"/><stop offset="0.350" stop-color="#ffd15b"/><stop offset="0.476" stop-color="#ffce59"/><stop offset="0.632" stop-color="#ffbb4e"/><stop offset="0.787" stop-color="#ffaa46"/><stop offset="0.893" stop-color="#ff8632"/><stop offset="1" stop-color="#ff611c"/></linearGradient>
<linearGradient id="g83" gradientUnits="userSpaceOnUse" x1="762.6" y1="224.4" x2="749.4" y2="253.9"><stop offset="0.000" stop-color="#0000db"/><stop offset="0.125" stop-color="#0000dd"/><stop offset="0.250" stop-color="#0000df"/><stop offset="0.375" stop-color="#0000e1"/><stop offset="0.500" stop-color="#0000e2"/><stop offset="0.625" stop-color="#0000e4"/><stop offset="0.750" stop-color="#0000e6"/><stop offset="0.875" stop-color="#0000e7"/><stop offset="1" stop-color="#0000e9"/></linearGradient>
<linearGradient id="g84" gradientUnits="userSpaceOnUse" x1="749.4" y1="254.1" x2="749.8" y2="256.4"><stop offset="0.000" stop-color="#1c76a9"/><stop offset="0.125" stop-color="#26839f"/><stop offset="0.250" stop-color="#459299"/><stop offset="0.375" stop-color="#64a193"/><stop offset="0.500" stop-color="#83b08d"/><stop offset="0.625" stop-color="#a2bf88"/><stop offset="0.750" stop-color="#bccb81"/><stop offset="0.875" stop-color="#ced27a"/><stop offset="1" stop-color="#e1d972"/></linearGradient>
<linearGradient id="g85" gradientUnits="userSpaceOnUse" x1="749.8" y1="257" x2="750.1" y2="259.1"><stop offset="0.000" stop-color="#ffe265"/><stop offset="0.125" stop-color="#ffe265"/><stop offset="0.250" stop-color="#ffe165"/><stop offset="0.375" stop-color="#ffe164"/><stop offset="0.500" stop-color="#ffe164"/><stop offset="0.625" stop-color="#ffe164"/><stop offset="0.750" stop-color="#ffe064"/><stop offset="0.875" stop-color="#ffe064"/><stop offset="1" stop-color="#ffe064"/></linearGradient>
<clipPath id="c86"><rect x="48.6" y="447.4" width="375.7" height="367.5"/></clipPath>
<linearGradient id="g87" gradientUnits="userSpaceOnUse" x1="245.1" y1="597.6" x2="243.8" y2="615.1"><stop offset="0.000" stop-color="#ffce59"/><stop offset="0.125" stop-color="#ffcf59"/><stop offset="0.250" stop-color="#ffd05a"/><stop offset="0.375" stop-color="#ffd15b"/><stop offset="0.500" stop-color="#ffd25b"/><stop offset="0.625" stop-color="#ffd35c"/><stop offset="0.750" stop-color="#ffd55d"/><stop offset="0.875" stop-color="#ffd65e"/><stop offset="1" stop-color="#ffd75e"/></linearGradient>
<linearGradient id="g88" gradientUnits="userSpaceOnUse" x1="223.8" y1="619.5" x2="250.1" y2="611.3"><stop offset="0.000" stop-color="#ffe064"/><stop offset="0.125" stop-color="#ffdf64"/><stop offset="0.250" stop-color="#ffdf63"/><stop offset="0.375" stop-color="#ffde63"/><stop offset="0.500" stop-color="#ffde63"/><stop offset="0.625" stop-color="#ffdd62"/><stop offset="0.750" stop-color="#ffdd62"/><stop offset="0.875" stop-color="#ffdc62"/><stop offset="1" stop-color="#ffdb61"/></linearGradient>
<linearGradient id="g89" gradientUnits="userSpaceOnUse" x1="255.1" y1="612.6" x2="301.4" y2="581.5"><stop offset="0.000" stop-color="#ffe064"/><stop offset="0.143" stop-color="#ffdf63"/><stop offset="0.286" stop-color="#ffde63"/><stop offset="0.423" stop-color="#ffda60"/><stop offset="0.560" stop-color="#ffd75e"/><stop offset="0.691" stop-color="#ffce59"/><stop offset="0.822" stop-color="#ffc553"/><stop offset="0.911" stop-color="#ffb049"/><stop offset="1" stop-color="#ff9c40"/></linearGradient>
<linearGradient id="g90" gradientUnits="userSpaceOnUse" x1="260.1" y1="607.6" x2="274.5" y2="590"><stop offset="0.000" stop-color="#ffc956"/><stop offset="0.177" stop-color="#ffc050"/><stop offset="0.353" stop-color="#ffb94d"/><stop offset="0.530" stop-color="#ffae48"/><stop offset="0.707" stop-color="#ffa343"/><stop offset="0.853" stop-color="#ff923a"/><stop offset="1" stop-color="#ff8230"/></linearGradient>
<linearGradient id="g91" gradientUnits="userSpaceOnUse" x1="280.1" y1="618.8" x2="295.4" y2="611.1"><stop offset="0.000" stop-color="#ffde63"/><stop offset="0.125" stop-color="#ffdc62"/><stop offset="0.250" stop-color="#ffdb61"/><stop offset="0.375" stop-color="#ffd960"/><stop offset="0.500" stop-color="#ffd85f"/><stop offset="0.625" stop-color="#ffd75e"/><stop offset="0.750" stop-color="#ffd55d"/><stop offset="0.875" stop-color="#ffd45c"/><stop offset="1" stop-color="#ffd25b"/></linearGradient>
<linearGradient id="g92" gradientUnits="userSpaceOnUse" x1="291.4" y1="614.1" x2="295.8" y2="616.6"><stop offset="0.000" stop-color="#ffd75e"/><stop offset="0.125" stop-color="#ffd65e"/><stop offset="0.250" stop-color="#ffd55d"/><stop offset="0.375" stop-color="#ffd35c"/><stop offset="0.500" stop-color="#ffd25b"/><stop offset="0.625" stop-color="#ffd15b"/><stop offset="0.750" stop-color="#ffd05a"/><stop offset="0.875" stop-color="#ffcf59"/><stop offset="1" stop-color="#ffce59"/></linearGradient>
<linearGradient id="g93" gradientUnits="userSpaceOnUse" x1="265.1" y1="623.9" x2="282.6" y2="633.2"><stop offset="0.000" stop-color="#ffde63"/><stop offset="0.125" stop-color="#ffdd62"/><stop offset="0.250" stop-color="#ffdc62"/><stop offset="0.375" stop-color="#ffdb61"/><stop offset="0.500" stop-color="#ffda60"/><stop offset="0.625" stop-color="#ffd960"/><stop offset="0.750" stop-color="#ffd95f"/><stop offset="0.875" stop-color="#ffd85f"/><stop offset="1" stop-color="#ffd75e"/></linearGradient>
<linearGradient id="g94" gradientUnits="userSpaceOnUse" x1="255.1" y1="622.6" x2="255.7" y2="645.1"><stop offset="0.000" stop-color="#ffd25b"/><stop offset="0.278" stop-color="#ffce59"/><stop offset="0.557" stop-color="#ffc956"/><stop offset="0.695" stop-color="#ffb94d"/><stop offset="0.834" stop-color="#ffaa46"/><stop offset="0.917" stop-color="#ff8934"/><stop offset="1" stop-color="#ff6820"/></linearGradient>
<linearGradient id="g95" gradientUnits="userSpaceOnUse" x1="267.6" y1="615.7" x2="282.9" y2="613.2"><stop offset="0.000" stop-color="#ffaa46"/><stop offset="0.249" stop-color="#ffa042"/><stop offset="0.499" stop-color="#ff963c"/><stop offset="0.749" stop-color="#ff7226"/><stop offset="1" stop-color="#ff4d10"/></linearGradient>
<linearGradient id="g96" gradientUnits="userSpaceOnUse" x1="247.6" y1="650.2" x2="277.9" y2="644.5"><stop offset="0.000" stop-color="#ffde63"/><stop offset="0.125" stop-color="#ffdd62"/><stop offset="0.250" stop-color="#ffdd62"/><stop offset="0.375" stop-color="#ffdd62"/><stop offset="0.500" stop-color="#ffdd62"/><stop offset="0.625" stop-color="#ffdc62"/><stop offset="0.750" stop-color="#ffdc62"/><stop offset="0.875" stop-color="#ffdc61"/><stop offset="1" stop-color="#ffdb61"/></linearGradient>
<linearGradient id="g97" gradientUnits="userSpaceOnUse" x1="212.5" y1="652" x2="250.1" y2="652"><stop offset="0.000" stop-color="#ffbc4e"/><stop offset="0.125" stop-color="#ffbd4f"/><stop offset="0.250" stop-color="#ffbe4f"/><stop offset="0.375" stop-color="#ffbf50"/><stop offset="0.500" stop-color="#ffc050"/><stop offset="0.625" stop-color="#ffc151"/><stop offset="0.750" stop-color="#ffc251"/><stop offset="0.875" stop-color="#ffc352"/><stop offset="1" stop-color="#ffc553"/></linearGradient>
<linearGradient id="g98" gradientUnits="userSpaceOnUse" x1="273.8" y1="670.1" x2="312.6" y2="656.3"><stop offset="0.000" stop-color="#ffe064"/><stop offset="0.125" stop-color="#ffdd62"/><stop offset="0.250" stop-color="#ffd960"/><stop offset="0.375" stop-color="#ffd65e"/><stop offset="0.500" stop-color="#ffd25b"/><stop offset="0.625" stop-color="#ffcf59"/><stop offset="0.750" stop-color="#ffcb57"/><stop offset="0.875" stop-color="#ffc855"/><stop offset="1" stop-color="#ffc553"/></linearGradient>
<linearGradient id="g99" gradientUnits="userSpaceOnUse" x1="310.1" y1="656.9" x2="311.6" y2="659.8"><stop offset="0.000" stop-color="#ffc553"/><stop offset="0.125" stop-color="#ffc452"/><stop offset="0.250" stop-color="#ffc352"/><stop offset="0.375" stop-color="#ffc352"/><stop offset="0.500" stop-color="#ffc251"/><stop offset="0.625" stop-color="#ffc251"/><stop offset="0.750" stop-color="#ffc151"/><stop offset="0.875" stop-color="#ffc150"/><stop offset="1" stop-color="#ffc050"/></linearGradient>
<linearGradient id="g100" gradientUnits="userSpaceOnUse" x1="280.1" y1="673.2" x2="294.5" y2="666.3"><stop offset="0.000" stop-color="#ffb24a"/><stop offset="0.125" stop-color="#ffac47"/><stop offset="0.250" stop-color="#ffa745"/><stop offset="0.375" stop-color="#ffa142"/><stop offset="0.500" stop-color="#ff9c40"/><stop offset="0.625" stop-color="#ff973d"/><stop offset="0.750" stop-color="#ff923a"/><stop offset="0.875" stop-color="#ff8e37"/><stop offset="1" stop-color="#ff8934"/></linearGradient>
<linearGradient id="g101" gradientUnits="userSpaceOnUse" x1="281.3" y1="675.1" x2="276.9" y2="684.5"><stop offset="0.000" stop-color="#ffd75e"/><stop offset="0.125" stop-color="#ffd75f"/><stop offset="0.250" stop-color="#ffd85f"/><stop offset="0.375" stop-color="#ffd95f"/><stop offset="0.500" stop-color="#ffd960"/><stop offset="0.625" stop-color="#ffda60"/><stop offset="0.750" stop-color="#ffda60"/><stop offset="0.875" stop-color="#ffdb61"/><stop offset="1" stop-color="#ffdb61"/></linearGradient>
<linearGradient id="g102" gradientUnits="userSpaceOnUse" x1="175.1" y1="668.8" x2="131.3" y2="672"><stop offset="0.000" stop-color="#ffd25b"/><stop offset="0.125" stop-color="#ffcd58"/><stop offset="0.250" stop-color="#ffc754"/><stop offset="0.375" stop-color="#ffc151"/><stop offset="0.500" stop-color="#ffbc4e"/><stop offset="0.625" stop-color="#ffb84c"/><stop offset="0.750" stop-color="#ffb34a"/><stop offset="0.875" stop-color="#ffaf48"/><stop offset="1" stop-color="#ffaa46"/></linearGradient>
<linearGradient id="g103" gradientUnits="userSpaceOnUse" x1="131.3" y1="672" x2="128.1" y2="670.1"><stop offset="0.000" stop-color="#ffb24a"/><stop offset="0.125" stop-color="#ffb24a"/><stop offset="0.250" stop-color="#ffb34a"/><stop offset="0.375" stop-color="#ffb44b"/><stop offset="0.500" stop-color="#ffb54b"/><stop offset="0.625" stop-color="#ffb64c"/><stop offset="0.750" stop-color="#ffb74c"/><stop offset="0.875" stop-color="#ffb84c"/><stop offset="1" stop-color="#ffb94d"/></linearGradient>
<linearGradient id="g104" gradientUnits="userSpaceOnUse" x1="246" y1="579" x2="217.7" y2="517.1"><stop offset="0.000" stop-color="#ff7c2c"/><stop offset="0.101" stop-color="#ff7528"/><stop offset="0.201" stop-color="#ff6e24"/><stop offset="0.382" stop-color="#ff5716"/><stop offset="0.564" stop-color="#ff4008"/><stop offset="0.708" stop-color="#f83101"/><stop offset="0.853" stop-color="#e82c04"/><stop offset="0.927" stop-color="#d72504"/><stop offset="1" stop-color="#c61e02"/></linearGradient>
<linearGradient id="g105" gradientUnits="userSpaceOnUse" x1="276.6" y1="536.4" x2="277.3" y2="509.6"><stop offset="0.000" stop-color="#ff963c"/><stop offset="0.208" stop-color="#ff8c36"/><stop offset="0.416" stop-color="#ff8230"/><stop offset="0.708" stop-color="#ff5012"/><stop offset="1" stop-color="#fc3201"/></linearGradient>
<linearGradient id="g106" gradientUnits="userSpaceOnUse" x1="300.4" y1="522.6" x2="310.4" y2="508.9"><stop offset="0.000" stop-color="#ff8230"/><stop offset="0.125" stop-color="#ff812f"/><stop offset="0.250" stop-color="#ff7f2e"/><stop offset="0.375" stop-color="#ff7e2d"/><stop offset="0.500" stop-color="#ff7c2c"/><stop offset="0.625" stop-color="#ff7a2b"/><stop offset="0.750" stop-color="#ff792a"/><stop offset="0.875" stop-color="#ff7729"/><stop offset="1" stop-color="#ff7528"/></linearGradient>
<linearGradient id="g107" gradientUnits="userSpaceOnUse" x1="301.6" y1="521.4" x2="322.9" y2="500.1"><stop offset="0.000" stop-color="#ffc553"/><stop offset="0.125" stop-color="#ffbf50"/><stop offset="0.250" stop-color="#ffbb4e"/><stop offset="0.375" stop-color="#ffb64c"/><stop offset="0.500" stop-color="#ffb24a"/><stop offset="0.625" stop-color="#ffad48"/><stop offset="0.750" stop-color="#ffa946"/><stop offset="0.875" stop-color="#ffa444"/><stop offset="1" stop-color="#ffa042"/></linearGradient>
<linearGradient id="g108" gradientUnits="userSpaceOnUse" x1="301.6" y1="523.9" x2="312.9" y2="532.7"><stop offset="0.000" stop-color="#ffb24a"/><stop offset="0.125" stop-color="#ffb149"/><stop offset="0.250" stop-color="#ffb049"/><stop offset="0.375" stop-color="#ffaf48"/><stop offset="0.500" stop-color="#ffae48"/><stop offset="0.625" stop-color="#ffad48"/><stop offset="0.750" stop-color="#ffac47"/><stop offset="0.875" stop-color="#ffab47"/><stop offset="1" stop-color="#ffaa46"/></linearGradient>
<linearGradient id="g109" gradientUnits="userSpaceOnUse" x1="240.3" y1="609.1" x2="211.5" y2="600.3"><stop offset="0.000" stop-color="#ff4d10"/><stop offset="0.125" stop-color="#ff4f11"/><stop offset="0.250" stop-color="#ff5012"/><stop offset="0.375" stop-color="#ff5213"/><stop offset="0.500" stop-color="#ff5414"/><stop offset="0.625" stop-color="#ff5515"/><stop offset="0.750" stop-color="#ff5716"/><stop offset="0.875" stop-color="#ff5817"/><stop offset="1" stop-color="#ff5a18"/></linearGradient>
<linearGradient id="g110" gradientUnits="userSpaceOnUse" x1="211.5" y1="600.3" x2="210.2" y2="580.3"><stop offset="0.000" stop-color="#ff8230"/><stop offset="0.245" stop-color="#ff7c2c"/><stop offset="0.489" stop-color="#ff7528"/><stop offset="0.745" stop-color="#ff470c"/><stop offset="1" stop-color="#f93101"/></linearGradient>
<linearGradient id="g111" gradientUnits="userSpaceOnUse" x1="211.5" y1="600.3" x2="170.1" y2="613.3"><stop offset="0.000" stop-color="#ff8934"/><stop offset="0.237" stop-color="#ff8230"/><stop offset="0.474" stop-color="#ff7c2c"/><stop offset="0.623" stop-color="#ff6820"/><stop offset="0.773" stop-color="#ff5414"/><stop offset="0.886" stop-color="#ff4008"/><stop offset="1" stop-color="#ff3401"/></linearGradient>
<linearGradient id="g112" gradientUnits="userSpaceOnUse" x1="237.6" y1="608.8" x2="255.1" y2="620.1"><stop offset="0.000" stop-color="#ff963c"/><stop offset="0.125" stop-color="#ff953c"/><stop offset="0.250" stop-color="#ff943b"/><stop offset="0.375" stop-color="#ff933a"/><stop offset="0.500" stop-color="#ff923a"/><stop offset="0.625" stop-color="#ff923a"/><stop offset="0.750" stop-color="#ff9139"/><stop offset="0.875" stop-color="#ff9038"/><stop offset="1" stop-color="#ff8f38"/></linearGradient>
<linearGradient id="g113" gradientUnits="userSpaceOnUse" x1="252.6" y1="613.8" x2="280.1" y2="621.3"><stop offset="0.000" stop-color="#0000f7"/><stop offset="0.125" stop-color="#0000f2"/><stop offset="0.250" stop-color="#0000ed"/><stop offset="0.375" stop-color="#0000e7"/><stop offset="0.500" stop-color="#0000e2"/><stop offset="0.625" stop-color="#0000dd"/><stop offset="0.750" stop-color="#0000d8"/><stop offset="0.875" stop-color="#0000d3"/><stop offset="1" stop-color="#0000ce"/></linearGradient>
<linearGradient id="g114" gradientUnits="userSpaceOnUse" x1="280.1" y1="621.3" x2="297.7" y2="627"><stop offset="0.000" stop-color="#0000c0"/><stop offset="0.125" stop-color="#0000c5"/><stop offset="0.250" stop-color="#0000ca"/><stop offset="0.375" stop-color="#0000cf"/><stop offset="0.500" stop-color="#0000d5"/><stop offset="0.625" stop-color="#0000da"/><stop offset="0.750" stop-color="#0000df"/><stop offset="0.875" stop-color="#0000e4"/><stop offset="1" stop-color="#0000e9"/></linearGradient>
<linearGradient id="g115" gradientUnits="userSpaceOnUse" x1="297.9" y1="627" x2="299.7" y2="627"><stop offset="0.000" stop-color="#1c76a9"/><stop offset="0.125" stop-color="#26839f"/><stop offset="0.250" stop-color="#459299"/><stop offset="0.375" stop-color="#64a193"/><stop offset="0.500" stop-color="#83b08d"/><stop offset="0.625" stop-color="#a2bf88"/><stop offset="0.750" stop-color="#bccb81"/><stop offset="0.875" stop-color="#ced27a"/><stop offset="1" stop-color="#e1d972"/></linearGradient>
<linearGradient id="g116" gradientUnits="userSpaceOnUse" x1="300.2" y1="627" x2="301.7" y2="627"><stop offset="0.000" stop-color="#ffe265"/><stop offset="0.125" stop-color="#ffe265"/><stop offset="0.250" stop-color="#ffe165"/><stop offset="0.375" stop-color="#ffe164"/><stop offset="0.500" stop-color="#ffe164"/><stop offset="0.625" stop-color="#ffe164"/><stop offset="0.750" stop-color="#ffe064"/><stop offset="0.875" stop-color="#ffe064"/><stop offset="1" stop-color="#ffe064"/></linearGradient>
<linearGradient id="g117" gradientUnits="userSpaceOnUse" x1="195.1" y1="666.3" x2="148.2" y2="655"><stop offset="0.000" stop-color="#ff8934"/><stop offset="0.125" stop-color="#ff8230"/><stop offset="0.250" stop-color="#ff7a2b"/><stop offset="0.375" stop-color="#ff7326"/><stop offset="0.500" stop-color="#ff6b22"/><stop offset="0.625" stop-color="#ff631e"/><stop offset="0.750" stop-color="#ff5c19"/><stop offset="0.875" stop-color="#ff5414"/><stop offset="1" stop-color="#ff4d10"/></linearGradient>
<linearGradient id="g118" gradientUnits="userSpaceOnUse" x1="148.2" y1="654.4" x2="141.3" y2="643.8"><stop offset="0.000" stop-color="#ff6e24"/><stop offset="0.125" stop-color="#ff6f24"/><stop offset="0.250" stop-color="#ff7025"/><stop offset="0.375" stop-color="#ff7126"/><stop offset="0.500" stop-color="#ff7226"/><stop offset="0.625" stop-color="#ff7326"/><stop offset="0.750" stop-color="#ff7427"/><stop offset="0.875" stop-color="#ff7428"/><stop offset="1" stop-color="#ff7528"/></linearGradient>
<linearGradient id="g119" gradientUnits="userSpaceOnUse" x1="148.2" y1="656.3" x2="141.9" y2="665.1"><stop offset="0.000" stop-color="#ff6e24"/><stop offset="0.125" stop-color="#ff6f24"/><stop offset="0.250" stop-color="#ff7025"/><stop offset="0.375" stop-color="#ff7126"/><stop offset="0.500" stop-color="#ff7226"/><stop offset="0.625" stop-color="#ff7326"/><stop offset="0.750" stop-color="#ff7427"/><stop offset="0.875" stop-color="#ff7428"/><stop offset="1" stop-color="#ff7528"/></linearGradient>
<linearGradient id="g120" gradientUnits="userSpaceOnUse" x1="176.4" y1="670.1" x2="145.7" y2="684.9"><stop offset="0.000" stop-color="#000095"/><stop offset="0.125" stop-color="#00009e"/><stop offset="0.250" stop-color="#0000a7"/><stop offset="0.375" stop-color="#0000b0"/><stop offset="0.500" stop-color="#0000b9"/><stop offset="0.625" stop-color="#0000c2"/><stop offset="0.750" stop-color="#0000ca"/><stop offset="0.875" stop-color="#0000d3"/><stop offset="1" stop-color="#0000db"/></linearGradient>
<linearGradient id="g121" gradientUnits="userSpaceOnUse" x1="145.4" y1="685.1" x2="144" y2="686.6"><stop offset="0.000" stop-color="#1462bb"/><stop offset="0.125" stop-color="#196eb0"/><stop offset="0.250" stop-color="#1e7ba4"/><stop offset="0.375" stop-color="#32899c"/><stop offset="0.500" stop-color="#519897"/><stop offset="0.625" stop-color="#70a791"/><stop offset="0.750" stop-color="#8fb68b"/><stop offset="0.875" stop-color="#aec585"/><stop offset="1" stop-color="#c3ce7e"/></linearGradient>
<linearGradient id="g122" gradientUnits="userSpaceOnUse" x1="143.5" y1="687.6" x2="141.3" y2="690.7"><stop offset="0.000" stop-color="#ffe265"/><stop offset="0.125" stop-color="#ffe265"/><stop offset="0.250" stop-color="#ffe165"/><stop offset="0.375" stop-color="#ffe164"/><stop offset="0.500" stop-color="#ffe164"/><stop offset="0.625" stop-color="#ffe164"/><stop offset="0.750" stop-color="#ffe064"/><stop offset="0.875" stop-color="#ffe064"/><stop offset="1" stop-color="#ffe064"/></linearGradient>
<linearGradient id="g123" gradientUnits="userSpaceOnUse" x1="212.7" y1="652.5" x2="245.2" y2="657.6"><stop offset="0.000" stop-color="#ffc956"/><stop offset="0.125" stop-color="#ffc855"/><stop offset="0.250" stop-color="#ffc754"/><stop offset="0.375" stop-color="#ffc654"/><stop offset="0.500" stop-color="#ffc553"/><stop offset="0.625" stop-color="#ffc352"/><stop offset="0.750" stop-color="#ffc251"/><stop offset="0.875" stop-color="#ffc151"/><stop offset="1" stop-color="#ffc050"/></linearGradient>
<linearGradient id="g124" gradientUnits="userSpaceOnUse" x1="246.3" y1="661.9" x2="270.1" y2="672.6"><stop offset="0.000" stop-color="#ff4d10"/><stop offset="0.125" stop-color="#ff4f11"/><stop offset="0.250" stop-color="#ff5012"/><stop offset="0.375" stop-color="#ff5213"/><stop offset="0.500" stop-color="#ff5414"/><stop offset="0.625" stop-color="#ff5515"/><stop offset="0.750" stop-color="#ff5716"/><stop offset="0.875" stop-color="#ff5817"/><stop offset="1" stop-color="#ff5a18"/></linearGradient>
<linearGradient id="g125" gradientUnits="userSpaceOnUse" x1="269.4" y1="675.1" x2="276.3" y2="708.9"><stop offset="0.000" stop-color="#ff9c40"/><stop offset="0.125" stop-color="#ff9a3f"/><stop offset="0.250" stop-color="#ff993e"/><stop offset="0.375" stop-color="#ff973d"/><stop offset="0.500" stop-color="#ff963c"/><stop offset="0.625" stop-color="#ff943b"/><stop offset="0.750" stop-color="#ff923a"/><stop offset="0.875" stop-color="#ff9139"/><stop offset="1" stop-color="#ff8f38"/></linearGradient>
<linearGradient id="g126" gradientUnits="userSpaceOnUse" x1="275.7" y1="709.5" x2="270.1" y2="725.2"><stop offset="0.000" stop-color="#ff8f38"/><stop offset="0.125" stop-color="#ff8a35"/><stop offset="0.250" stop-color="#ff8632"/><stop offset="0.375" stop-color="#ff812f"/><stop offset="0.500" stop-color="#ff7c2c"/><stop offset="0.625" stop-color="#ff7729"/><stop offset="0.750" stop-color="#ff7226"/><stop offset="0.875" stop-color="#ff6d23"/><stop offset="1" stop-color="#ff6820"/></linearGradient>
<linearGradient id="g127" gradientUnits="userSpaceOnUse" x1="270.1" y1="673.8" x2="335.8" y2="711.4"><stop offset="0.000" stop-color="#ff963c"/><stop offset="0.125" stop-color="#ff8934"/><stop offset="0.250" stop-color="#ff7c2c"/><stop offset="0.375" stop-color="#ff6e24"/><stop offset="0.500" stop-color="#ff611c"/><stop offset="0.625" stop-color="#ff5414"/><stop offset="0.750" stop-color="#ff470c"/><stop offset="0.875" stop-color="#ff3a04"/><stop offset="1" stop-color="#ff3401"/></linearGradient>
<linearGradient id="g128" gradientUnits="userSpaceOnUse" x1="335.8" y1="711.4" x2="347.1" y2="707"><stop offset="0.000" stop-color="#ff470c"/><stop offset="0.125" stop-color="#ff480d"/><stop offset="0.250" stop-color="#ff4a0e"/><stop offset="0.375" stop-color="#ff4c0f"/><stop offset="0.500" stop-color="#ff4d10"/><stop offset="0.625" stop-color="#ff4f11"/><stop offset="0.750" stop-color="#ff5012"/><stop offset="0.875" stop-color="#ff5213"/><stop offset="1" stop-color="#ff5414"/></linearGradient>
<linearGradient id="g129" gradientUnits="userSpaceOnUse" x1="335.8" y1="712.6" x2="339.6" y2="725.2"><stop offset="0.000" stop-color="#ff5414"/><stop offset="0.125" stop-color="#ff5213"/><stop offset="0.250" stop-color="#ff5012"/><stop offset="0.375" stop-color="#ff4f11"/><stop offset="0.500" stop-color="#ff4d10"/><stop offset="0.625" stop-color="#ff4c0f"/><stop offset="0.750" stop-color="#ff4a0e"/><stop offset="0.875" stop-color="#ff480d"/><stop offset="1" stop-color="#ff470c"/></linearGradient>
<linearGradient id="g130" gradientUnits="userSpaceOnUse" x1="209.1" y1="701.8" x2="217.9" y2="708.1"><stop offset="0.000" stop-color="#ff3702"/><stop offset="0.125" stop-color="#ff3803"/><stop offset="0.250" stop-color="#ff3903"/><stop offset="0.375" stop-color="#ff3904"/><stop offset="0.500" stop-color="#ff3a04"/><stop offset="0.625" stop-color="#ff3c05"/><stop offset="0.750" stop-color="#ff3d06"/><stop offset="0.875" stop-color="#ff3f07"/><stop offset="1" stop-color="#ff4008"/></linearGradient>
<linearGradient id="g131" gradientUnits="userSpaceOnUse" x1="195.2" y1="700.2" x2="201.5" y2="700.6"><stop offset="0.000" stop-color="#ff9c40"/><stop offset="0.125" stop-color="#ff9a3e"/><stop offset="0.250" stop-color="#ff973d"/><stop offset="0.375" stop-color="#ff953c"/><stop offset="0.500" stop-color="#ff923a"/><stop offset="0.625" stop-color="#ff9038"/><stop offset="0.750" stop-color="#ff8e37"/><stop offset="0.875" stop-color="#ff8b35"/><stop offset="1" stop-color="#ff8934"/></linearGradient>
<linearGradient id="g132" gradientUnits="userSpaceOnUse" x1="221.1" y1="678.4" x2="154.4" y2="763.3"><stop offset="0.000" stop-color="#ff7c2c"/><stop offset="0.058" stop-color="#ff7c2c"/><stop offset="0.116" stop-color="#ff7c2c"/><stop offset="0.165" stop-color="#ff7c2c"/><stop offset="0.215" stop-color="#ff7c2c"/><stop offset="0.297" stop-color="#ff7528"/><stop offset="0.378" stop-color="#ff6e24"/><stop offset="0.538" stop-color="#ff5a18"/><stop offset="0.697" stop-color="#ff470c"/><stop offset="0.791" stop-color="#ff470c"/><stop offset="0.885" stop-color="#ff470c"/><stop offset="0.942" stop-color="#ff641e"/><stop offset="1" stop-color="#ff8230"/></linearGradient>
<linearGradient id="cb" x1="0" y1="0" x2="0" y2="1"><stop offset="0.0000" stop-color="#810000"/><stop offset="0.1236" stop-color="#8e0600"/><stop offset="0.2439" stop-color="#a01000"/><stop offset="0.3642" stop-color="#b81800"/><stop offset="0.4845" stop-color="#d02204"/><stop offset="0.6048" stop-color="#e82c04"/><stop offset="0.7011" stop-color="#ff3300"/><stop offset="0.7251" stop-color="#ff3a04"/><stop offset="0.7733" stop-color="#ff5a18"/><stop offset="0.8214" stop-color="#ff7c2c"/><stop offset="0.8695" stop-color="#ff9c40"/><stop offset="0.9176" stop-color="#ffc050"/><stop offset="0.9513" stop-color="#ffe064"/><stop offset="0.9648" stop-color="#ffe566"/><stop offset="0.9672" stop-color="#b4c884"/><stop offset="0.9701" stop-color="#2080a0"/><stop offset="0.9739" stop-color="#0030e8"/><stop offset="0.9787" stop-color="#0000ff"/><stop offset="0.9898" stop-color="#0000c0"/><stop offset="1.0000" stop-color="#000083"/></linearGradient>
<linearGradient id="g133" gradientUnits="userSpaceOnUse" x1="770.2" y1="643.8" x2="792.7" y2="662"><stop offset="0.000" stop-color="#ffd75e"/><stop offset="0.125" stop-color="#ffce59"/><stop offset="0.250" stop-color="#ffc654"/><stop offset="0.375" stop-color="#ffbe4f"/><stop offset="0.500" stop-color="#ffb74c"/><stop offset="0.625" stop-color="#ffb049"/><stop offset="0.750" stop-color="#ffaa46"/><stop offset="0.875" stop-color="#ffa343"/><stop offset="1" stop-color="#ff9c40"/></linearGradient>
<linearGradient id="g134" gradientUnits="userSpaceOnUse" x1="759.5" y1="642" x2="746.8" y2="661.6"><stop offset="0.000" stop-color="#ffd75e"/><stop offset="0.125" stop-color="#ffd65e"/><stop offset="0.250" stop-color="#ffd65e"/><stop offset="0.375" stop-color="#ffd55d"/><stop offset="0.500" stop-color="#ffd55d"/><stop offset="0.625" stop-color="#ffd45c"/><stop offset="0.750" stop-color="#ffd35c"/><stop offset="0.875" stop-color="#ffd35c"/><stop offset="1" stop-color="#ffd25b"/></linearGradient>
<linearGradient id="g135" gradientUnits="userSpaceOnUse" x1="758.2" y1="647.7" x2="760.1" y2="684"><stop offset="0.000" stop-color="#ffd75e"/><stop offset="0.125" stop-color="#ffd45c"/><stop offset="0.250" stop-color="#ffd15b"/><stop offset="0.375" stop-color="#ffce59"/><stop offset="0.500" stop-color="#ffcb57"/><stop offset="0.625" stop-color="#ffc955"/><stop offset="0.750" stop-color="#ffc654"/><stop offset="0.875" stop-color="#ffc352"/><stop offset="1" stop-color="#ffc050"/></linearGradient>
<linearGradient id="g136" gradientUnits="userSpaceOnUse" x1="773.4" y1="657.2" x2="782.2" y2="664.5"><stop offset="0.000" stop-color="#ffde63"/><stop offset="0.125" stop-color="#ffdd62"/><stop offset="0.250" stop-color="#ffdc62"/><stop offset="0.375" stop-color="#ffdb61"/><stop offset="0.500" stop-color="#ffda60"/><stop offset="0.625" stop-color="#ffd960"/><stop offset="0.750" stop-color="#ffd95f"/><stop offset="0.875" stop-color="#ffd85f"/><stop offset="1" stop-color="#ffd75e"/></linearGradient>
<linearGradient id="g137" gradientUnits="userSpaceOnUse" x1="754.4" y1="656.5" x2="755.1" y2="684"><stop offset="0.000" stop-color="#ffa343"/><stop offset="0.125" stop-color="#ffa042"/><stop offset="0.250" stop-color="#ff9e41"/><stop offset="0.375" stop-color="#ff9b40"/><stop offset="0.500" stop-color="#ff993e"/><stop offset="0.625" stop-color="#ff963c"/><stop offset="0.750" stop-color="#ff943b"/><stop offset="0.875" stop-color="#ff923a"/><stop offset="1" stop-color="#ff8f38"/></linearGradient>
<linearGradient id="g138" gradientUnits="userSpaceOnUse" x1="757.6" y1="652.6" x2="754.5" y2="686.4"><stop offset="0.000" stop-color="#ffa343"/><stop offset="0.125" stop-color="#ff9f41"/><stop offset="0.250" stop-color="#ff9a3f"/><stop offset="0.375" stop-color="#ff963c"/><stop offset="0.500" stop-color="#ff923a"/><stop offset="0.625" stop-color="#ff8e38"/><stop offset="0.750" stop-color="#ff8a35"/><stop offset="0.875" stop-color="#ff8632"/><stop offset="1" stop-color="#ff8230"/></linearGradient>
<linearGradient id="g139" gradientUnits="userSpaceOnUse" x1="762.7" y1="667.6" x2="766.4" y2="685.1"><stop offset="0.000" stop-color="#ffaa46"/><stop offset="0.125" stop-color="#ffaa46"/><stop offset="0.250" stop-color="#ffa946"/><stop offset="0.375" stop-color="#ffa845"/><stop offset="0.500" stop-color="#ffa745"/><stop offset="0.625" stop-color="#ffa644"/><stop offset="0.750" stop-color="#ffa544"/><stop offset="0.875" stop-color="#ffa444"/><stop offset="1" stop-color="#ffa343"/></linearGradient>
<linearGradient id="g140" gradientUnits="userSpaceOnUse" x1="745.7" y1="617.7" x2="778.5" y2="673"><stop offset="0.000" stop-color="#ffb24a"/><stop offset="0.125" stop-color="#ffa845"/><stop offset="0.250" stop-color="#ff9e41"/><stop offset="0.375" stop-color="#ff953c"/><stop offset="0.500" stop-color="#ff8c36"/><stop offset="0.625" stop-color="#ff8330"/><stop offset="0.750" stop-color="#ff7a2b"/><stop offset="0.875" stop-color="#ff7126"/><stop offset="1" stop-color="#ff6820"/></linearGradient>
<linearGradient id="g141" gradientUnits="userSpaceOnUse" x1="767.1" y1="658.4" x2="775.9" y2="680.6"><stop offset="0.000" stop-color="#ff9c40"/><stop offset="0.125" stop-color="#ff953c"/><stop offset="0.250" stop-color="#ff8e37"/><stop offset="0.375" stop-color="#ff8632"/><stop offset="0.500" stop-color="#ff7f2e"/><stop offset="0.625" stop-color="#ff782a"/><stop offset="0.750" stop-color="#ff7025"/><stop offset="0.875" stop-color="#ff6821"/><stop offset="1" stop-color="#ff611c"/></linearGradient>
<linearGradient id="g142" gradientUnits="userSpaceOnUse" x1="764.5" y1="656.5" x2="775.9" y2="675.5"><stop offset="0.000" stop-color="#ffaa46"/><stop offset="0.125" stop-color="#ffa644"/><stop offset="0.250" stop-color="#ffa142"/><stop offset="0.375" stop-color="#ff9d40"/><stop offset="0.500" stop-color="#ff993e"/><stop offset="0.625" stop-color="#ff953c"/><stop offset="0.750" stop-color="#ff9139"/><stop offset="0.875" stop-color="#ff8d36"/><stop offset="1" stop-color="#ff8934"/></linearGradient>
<linearGradient id="g143" gradientUnits="userSpaceOnUse" x1="747.6" y1="637.5" x2="733.9" y2="662.6"><stop offset="0.000" stop-color="#ffaa46"/><stop offset="0.125" stop-color="#ffad48"/><stop offset="0.250" stop-color="#ffb049"/><stop offset="0.375" stop-color="#ffb24a"/><stop offset="0.500" stop-color="#ffb54b"/><stop offset="0.625" stop-color="#ffb84c"/><stop offset="0.750" stop-color="#ffbb4e"/><stop offset="0.875" stop-color="#ffbd4f"/><stop offset="1" stop-color="#ffc050"/></linearGradient>
<linearGradient id="g144" gradientUnits="userSpaceOnUse" x1="749.5" y1="559.8" x2="762.7" y2="602"><stop offset="0.000" stop-color="#d02204"/><stop offset="0.125" stop-color="#cf2204"/><stop offset="0.250" stop-color="#cf2204"/><stop offset="0.375" stop-color="#ce2104"/><stop offset="0.500" stop-color="#ce2104"/><stop offset="0.625" stop-color="#cd2104"/><stop offset="0.750" stop-color="#cc2003"/><stop offset="0.875" stop-color="#cc2003"/><stop offset="1" stop-color="#cb2003"/></linearGradient>
<linearGradient id="g145" gradientUnits="userSpaceOnUse" x1="767.7" y1="607.6" x2="794.6" y2="625.2"><stop offset="0.000" stop-color="#ff7528"/><stop offset="0.125" stop-color="#ff7628"/><stop offset="0.250" stop-color="#ff7729"/><stop offset="0.375" stop-color="#ff782a"/><stop offset="0.500" stop-color="#ff792a"/><stop offset="0.625" stop-color="#ff792a"/><stop offset="0.750" stop-color="#ff7a2b"/><stop offset="0.875" stop-color="#ff7b2c"/><stop offset="1" stop-color="#ff7c2c"/></linearGradient>
<linearGradient id="g146" gradientUnits="userSpaceOnUse" x1="808.3" y1="631.3" x2="825.2" y2="634.5"><stop offset="0.000" stop-color="#ffb94d"/><stop offset="0.125" stop-color="#ffb74c"/><stop offset="0.250" stop-color="#ffb54b"/><stop offset="0.375" stop-color="#ffb34a"/><stop offset="0.500" stop-color="#ffb24a"/><stop offset="0.625" stop-color="#ffb049"/><stop offset="0.750" stop-color="#ffae48"/><stop offset="0.875" stop-color="#ffac47"/><stop offset="1" stop-color="#ffaa46"/></linearGradient>
<linearGradient id="g147" gradientUnits="userSpaceOnUse" x1="808.3" y1="632" x2="816.4" y2="643.2"><stop offset="0.000" stop-color="#ff8f38"/><stop offset="0.125" stop-color="#ff8e37"/><stop offset="0.250" stop-color="#ff8c36"/><stop offset="0.375" stop-color="#ff8a35"/><stop offset="0.500" stop-color="#ff8934"/><stop offset="0.625" stop-color="#ff8733"/><stop offset="0.750" stop-color="#ff8632"/><stop offset="0.875" stop-color="#ff8431"/><stop offset="1" stop-color="#ff8230"/></linearGradient>
<linearGradient id="g148" gradientUnits="userSpaceOnUse" x1="807.6" y1="633.9" x2="810.8" y2="647.6"><stop offset="0.000" stop-color="#ffaa46"/><stop offset="0.125" stop-color="#ffa946"/><stop offset="0.250" stop-color="#ffa745"/><stop offset="0.375" stop-color="#ffa544"/><stop offset="0.500" stop-color="#ffa343"/><stop offset="0.625" stop-color="#ffa142"/><stop offset="0.750" stop-color="#ffa042"/><stop offset="0.875" stop-color="#ff9e41"/><stop offset="1" stop-color="#ff9c40"/></linearGradient>
<linearGradient id="g149" gradientUnits="userSpaceOnUse" x1="792.6" y1="624.5" x2="800.7" y2="650.1"><stop offset="0.000" stop-color="#ff8934"/><stop offset="0.218" stop-color="#ff7f2e"/><stop offset="0.435" stop-color="#ff7528"/><stop offset="0.718" stop-color="#ff5012"/><stop offset="1" stop-color="#ff3401"/></linearGradient>
<linearGradient id="g150" gradientUnits="userSpaceOnUse" x1="738.2" y1="605.1" x2="747.6" y2="637.5"><stop offset="0.000" stop-color="#ff3401"/><stop offset="0.125" stop-color="#ff3602"/><stop offset="0.250" stop-color="#ff3803"/><stop offset="0.375" stop-color="#ff3a04"/><stop offset="0.500" stop-color="#ff3d06"/><stop offset="0.625" stop-color="#ff4108"/><stop offset="0.750" stop-color="#ff450b"/><stop offset="0.875" stop-color="#ff490d"/><stop offset="1" stop-color="#ff4d10"/></linearGradient>
<linearGradient id="g151" gradientUnits="userSpaceOnUse" x1="728.2" y1="628.1" x2="691.9" y2="680.1"><stop offset="0.000" stop-color="#ff7528"/><stop offset="0.125" stop-color="#ff7226"/><stop offset="0.250" stop-color="#ff6e24"/><stop offset="0.428" stop-color="#ff6820"/><stop offset="0.606" stop-color="#ff611c"/><stop offset="0.803" stop-color="#ff5012"/><stop offset="1" stop-color="#ff4008"/></linearGradient>
<linearGradient id="g152" gradientUnits="userSpaceOnUse" x1="691.9" y1="680.1" x2="674" y2="689.2"><stop offset="0.000" stop-color="#ff4d10"/><stop offset="0.125" stop-color="#ff4f11"/><stop offset="0.250" stop-color="#ff5012"/><stop offset="0.375" stop-color="#ff5213"/><stop offset="0.500" stop-color="#ff5414"/><stop offset="0.625" stop-color="#ff5515"/><stop offset="0.750" stop-color="#ff5716"/><stop offset="0.875" stop-color="#ff5817"/><stop offset="1" stop-color="#ff5a18"/></linearGradient>
<linearGradient id="g153" gradientUnits="userSpaceOnUse" x1="691.9" y1="680.7" x2="691.9" y2="697.7"><stop offset="0.000" stop-color="#ff7528"/><stop offset="0.278" stop-color="#ff6e24"/><stop offset="0.556" stop-color="#ff6820"/><stop offset="0.778" stop-color="#ff470c"/><stop offset="1" stop-color="#fe3300"/></linearGradient>
<linearGradient id="g154" gradientUnits="userSpaceOnUse" x1="728.8" y1="628.8" x2="718.8" y2="701.4"><stop offset="0.000" stop-color="#ff7528"/><stop offset="0.074" stop-color="#ff7528"/><stop offset="0.149" stop-color="#ff7528"/><stop offset="0.305" stop-color="#ff6e24"/><stop offset="0.461" stop-color="#ff6820"/><stop offset="0.618" stop-color="#ff480d"/><stop offset="0.775" stop-color="#ff3300"/><stop offset="0.888" stop-color="#e62b04"/><stop offset="1" stop-color="#d02204"/></linearGradient>
<linearGradient id="g155" gradientUnits="userSpaceOnUse" x1="717.6" y1="702" x2="711.9" y2="702.7"><stop offset="0.000" stop-color="#ff7c2c"/><stop offset="0.125" stop-color="#ff7e2d"/><stop offset="0.250" stop-color="#ff7f2e"/><stop offset="0.375" stop-color="#ff812f"/><stop offset="0.500" stop-color="#ff8230"/><stop offset="0.625" stop-color="#ff8431"/><stop offset="0.750" stop-color="#ff8632"/><stop offset="0.875" stop-color="#ff8733"/><stop offset="1" stop-color="#ff8934"/></linearGradient>
<linearGradient id="g156" gradientUnits="userSpaceOnUse" x1="712.6" y1="612.7" x2="692.8" y2="617.4"><stop offset="0.000" stop-color="#000095"/><stop offset="0.125" stop-color="#00009e"/><stop offset="0.250" stop-color="#0000a7"/><stop offset="0.375" stop-color="#0000b0"/><stop offset="0.500" stop-color="#0000b9"/><stop offset="0.625" stop-color="#0000c2"/><stop offset="0.750" stop-color="#0000ca"/><stop offset="0.875" stop-color="#0000d3"/><stop offset="1" stop-color="#0000db"/></linearGradient>
<linearGradient id="g157" gradientUnits="userSpaceOnUse" x1="692.5" y1="617.7" x2="691.5" y2="618.9"><stop offset="0.000" stop-color="#1c76a9"/><stop offset="0.125" stop-color="#26839f"/><stop offset="0.250" stop-color="#459299"/><stop offset="0.375" stop-color="#64a193"/><stop offset="0.500" stop-color="#83b08d"/><stop offset="0.625" stop-color="#a2bf88"/><stop offset="0.750" stop-color="#bccb81"/><stop offset="0.875" stop-color="#ced27a"/><stop offset="1" stop-color="#e1d972"/></linearGradient>
<linearGradient id="g158" gradientUnits="userSpaceOnUse" x1="691" y1="619.7" x2="689.4" y2="622"><stop offset="0.000" stop-color="#ffe265"/><stop offset="0.125" stop-color="#ffe265"/><stop offset="0.250" stop-color="#ffe165"/><stop offset="0.375" stop-color="#ffe164"/><stop offset="0.500" stop-color="#ffe164"/><stop offset="0.625" stop-color="#ffe164"/><stop offset="0.750" stop-color="#ffe064"/><stop offset="0.875" stop-color="#ffe064"/><stop offset="1" stop-color="#ffe064"/></linearGradient>
<linearGradient id="g159" gradientUnits="userSpaceOnUse" x1="710.7" y1="613.7" x2="688.8" y2="630.8"><stop offset="0.000" stop-color="#ffd25b"/><stop offset="0.201" stop-color="#ffc956"/><stop offset="0.402" stop-color="#ffc050"/><stop offset="0.701" stop-color="#ffb24a"/><stop offset="1" stop-color="#ffa343"/></linearGradient>
<linearGradient id="g160" gradientUnits="userSpaceOnUse" x1="721.3" y1="612.7" x2="696.9" y2="653.2"><stop offset="0.000" stop-color="#ff963c"/><stop offset="0.125" stop-color="#ff8f38"/><stop offset="0.250" stop-color="#ff8934"/><stop offset="0.375" stop-color="#ff8230"/><stop offset="0.500" stop-color="#ff7c2c"/><stop offset="0.625" stop-color="#ff7528"/><stop offset="0.750" stop-color="#ff6e24"/><stop offset="0.875" stop-color="#ff6820"/><stop offset="1" stop-color="#ff611c"/></linearGradient>
<linearGradient id="g161" gradientUnits="userSpaceOnUse" x1="747.6" y1="650.7" x2="751.4" y2="678.9"><stop offset="0.000" stop-color="#ff7528"/><stop offset="0.260" stop-color="#ff6e24"/><stop offset="0.520" stop-color="#ff6820"/><stop offset="0.760" stop-color="#ff4008"/><stop offset="1" stop-color="#f93101"/></linearGradient>
<linearGradient id="g162" gradientUnits="userSpaceOnUse" x1="747.6" y1="650.7" x2="727" y2="673.9"><stop offset="0.000" stop-color="#ff6e24"/><stop offset="0.264" stop-color="#ff6820"/><stop offset="0.528" stop-color="#ff611c"/><stop offset="0.764" stop-color="#ff470c"/><stop offset="1" stop-color="#ff3401"/></linearGradient>
<linearGradient id="g163" gradientUnits="userSpaceOnUse" x1="768.2" y1="607.6" x2="770.7" y2="665.2"><stop offset="0.000" stop-color="#ff8230"/><stop offset="0.108" stop-color="#ff7f2e"/><stop offset="0.215" stop-color="#ff7c2c"/><stop offset="0.411" stop-color="#ff6e24"/><stop offset="0.608" stop-color="#ff611c"/><stop offset="0.804" stop-color="#ff3401"/><stop offset="1" stop-color="#ee2e03"/></linearGradient>
</defs>
<rect width="1057" height="854" fill="#fff"/>
<rect x="48.6" y="6.4" width="375.7" height="368.1" fill="#eaeaea"/>
<path d="M74.6 6.4 V374.5 M128.5 6.4 V374.5 M182.3 6.4 V374.5 M236.2 6.4 V374.5 M290 6.4 V374.5 M343.8 6.4 V374.5 M397.7 6.4 V374.5 M48.6 6.4 H424.3 M48.6 54.4 H424.3 M48.6 102.3 H424.3 M48.6 150.3 H424.3 M48.6 198.2 H424.3 M48.6 246.2 H424.3 M48.6 294.1 H424.3 M48.6 342.1 H424.3" stroke="#bebebe" stroke-width="1.5" fill="none"/>
<g clip-path="url(#c2)" fill="none" stroke-linecap="round" stroke-linejoin="round">
<path d="M250.1 224.9 L251.6 224.1 L298.9 255.2 L296.4 258.9 L270.1 242.7 Z" fill="#0000e9" stroke="none"/><path d="M298.3 257.1 L302.1 260.2" stroke="url(#g1)" stroke-width="5.1"/>
<path d="M236.5 6.3 L236.5 48.8" stroke="#810000" stroke-width="5.1"/>
<path d="M270.1 281.3 L270.1 297.6" stroke="#ffdb61" stroke-width="5.1"/>
<path d="M278.8 281.3 L282.6 292" stroke="#ffdb61" stroke-width="5.1"/>
<path d="M236.5 48.8 L236 52.4 L235.4 57.3 L234.6 63.1 L233.9 69.2 L233.2 75.2 L232.7 81 L232.3 87.1 L231.9 93.4 L231.6 99.5 L231.2 105.2 L231 110.9 L230.7 116.8 L230.5 122.3 L230.4 126.9 L230.2 130.3" stroke="url(#g3)" stroke-width="5.1"/>
<path d="M236.5 48.8 L237 52.2 L237.6 56.9 L238.4 62.6 L239.1 68.7 L239.8 75.2 L240.3 81.9 L240.7 89.3 L241.2 97.1 L241.6 104.9 L242 112.7 L242.5 121 L242.9 130 L243.4 138.8 L243.7 146.3 L244 151.6" stroke="url(#g4)" stroke-width="5.1"/>
<path d="M230.2 130.3 L244 151.6" stroke="#de2804" stroke-width="5.1"/>
<path d="M229.7 131.5 L228.5 132.2 L226.6 133.1 L224.5 134.2 L222.3 135.4 L220.2 136.5 L218.3 137.6 L216.4 138.7 L214.5 139.9 L212.5 141.2 L210.2 142.8 L207.5 144.9 L204.3 147.5 L201.1 150.1 L198.4 152.4 L196.4 154.1" stroke="#ffa343" stroke-width="5.1"/>
<path d="M228.2 132.8 L227.5 135.9 L226.4 140.3 L225.1 145.5 L223.9 150.7 L222.7 155.3 L221.7 159.6 L220.6 164 L219.6 168.1 L218.8 171.6 L218.2 174.1" stroke="#ff3602" stroke-width="5.1"/>
<path d="M176.4 160.3 L176 161.3 L175.6 162.7 L174.9 164.3 L174 166.2 L172.6 168.3 L170.7 170.8 L168.2 173.7 L165.5 176.7 L162.7 179.7 L160.1 182.4 L157.7 184.7 L155.4 186.7 L153 188.7 L150.5 190.9 L147.6 193.4 L143.9 196.6 L139.6 200.4 L135.3 204.2 L131.4 207.6 L128.8 209.9" stroke="url(#g5)" stroke-width="5.1"/>
<path d="M128.8 209.9 L127 209.4" stroke="#ffaa46" stroke-width="5.1"/>
<path d="M128.8 209.9 L130.5 211.7" stroke="#ffaa46" stroke-width="5.1"/>
<path d="M196.4 154.1 L176.4 159.8" stroke="#0000f7" stroke-width="5.1"/>
<path d="M176.4 159.8 L175.2 159.7 L173.4 159.4 L171.5 159.2 L169.4 159 L167.6 159.1 L166.1 159.3 L164.6 159.7 L163.1 160.2 L161.7 160.9 L160.1 161.6 L158.4 162.4 L156.6 163.3 L154.7 164.3 L152.9 165.4 L151.3 166.6 L149.9 168 L148.4 169.6 L147.1 171.3 L146 172.8 L145.1 174.1 L144.4 175.1 L143.9 175.9 L143.5 176.5 L143.3 177 L143.1 177.4" stroke="url(#g6)" stroke-width="5.1"/>
<path d="M143.1 177.4 L142.3 178.9" stroke="url(#g7)" stroke-width="5.1"/>
<path d="M142.3 178.9 L141.3 180.9" stroke="url(#g8)" stroke-width="5.1"/>
<path d="M196.4 153.8 L196.3 155.3 L196.2 157.4 L196 159.9 L195.7 162.5 L195.2 165 L194.4 167.5 L193.4 170.1 L192.3 172.7 L191.2 175.2 L190.2 177.6 L189.4 179.4 L188.8 180.9 L188.1 182.4 L187 184.5 L185.2 187.6 L182.4 191.9 L179 197.3 L175.2 203.2 L171.3 209.3 L167.6 215.1 L164 221 L160.2 227.3 L156.5 233.4 L153 239.1 L150.1 243.9 L147.6 248 L145.5 251.4 L143.8 254.2 L142.4 256.5 L141.3 258.2" stroke="url(#g9)" stroke-width="5.1"/>
<path d="M218.2 175.1 L216.8 176.9 L214.9 179.3 L212.6 182.3 L210.1 185.9 L207.7 190.1 L205.3 195.1 L202.8 201 L200.3 207.4 L197.7 213.9 L195.2 220.1 L192.6 226.4 L189.9 232.8 L187.3 239.1 L184.8 245 L182.6 250.2 L180.8 254.8 L179.1 259 L177.7 262.6 L176.5 265.6 L175.6 267.7" stroke="url(#g10)" stroke-width="5.1"/>
<path d="M175.7 268.2 L162.6 278.2" stroke="#ff4d10" stroke-width="5.1"/>
<path d="M162.6 278.2 L154.4 280.1" stroke="url(#g11)" stroke-width="5.1"/>
<path d="M162.6 279.4 L159.4 291.3" stroke="url(#g12)" stroke-width="5.1"/>
<path d="M176.3 268.8 L176.7 271.4 L177.3 275.1 L177.9 279.4 L178.5 283.7 L178.8 287.6 L178.9 291.2 L178.8 294.8 L178.6 298.2 L178.4 301.1 L178.2 303.2" stroke="url(#g13)" stroke-width="5.1"/>
<path d="M178.2 303.2 L176.3 303.2" stroke="#ff4008" stroke-width="5.1"/>
<path d="M178.2 303.2 L179.7 303.9" stroke="#ff4008" stroke-width="5.1"/>
<path d="M248.8 227.6 L248 229.4 L246.7 231.9 L245.3 234.7 L243.9 237.6 L242.6 240.2 L241.4 242.5 L240.2 244.8 L239.2 247 L238.2 248.8 L237.6 250.2" stroke="#ffe064" stroke-width="5.1"/>
<path d="M237.7 250 L236.6 252.7 L235.1 256.6 L233.3 261 L231.6 265.3 L230.2 268.8 L229.1 271.5 L228.2 273.9 L227.5 275.9 L226.9 277.6 L226.4 278.8" stroke="url(#g14)" stroke-width="5.1"/>
<path d="M242.5 240 L242.9 243.5 L243.5 248.5 L244.2 254.2 L244.7 260 L245 265 L245 269.7 L244.7 274.4 L244.4 278.8 L244 282.4 L243.8 285.1" stroke="url(#g15)" stroke-width="5.1"/>
<path d="M218.2 175.1 L218.9 177.1 L219.9 179.9 L221 183.2 L222 186.7 L222.7 190.1 L223.2 193.2 L223.5 196.3 L223.7 199.6 L223.6 203.3 L223.2 207.6 L222.5 212.9 L221.4 218.9 L220.2 225.2 L218.9 231.6 L217.7 237.7 L216.6 243.8 L215.4 250.2 L214.3 256.3 L213.4 261.5 L212.7 265.2" stroke="url(#g16)" stroke-width="5.1"/>
<path d="M212.7 266.3 L212.9 269.1 L213.4 273.1 L213.8 277.8 L214.1 282.7 L214.2 287.6 L213.8 292.3 L213.2 297.3 L212.4 302.4 L211.7 307.5 L211.2 312.6 L210.8 318 L210.6 323.8 L210.4 329.4 L210.3 334.3 L210.2 337.7" stroke="url(#g17)" stroke-width="5.1"/>
<path d="M212.7 266.3 L209.9 269.4 L206 273.6 L201.5 278.7 L196.9 284.3 L192.6 290.1 L188.5 296.7 L184.1 304.5 L179.9 312.3 L176.4 319.1 L173.8 323.9" stroke="url(#g18)" stroke-width="5.1"/>
<path d="M173.8 323.9 L170.7 325.8" stroke="#ff470c" stroke-width="5.1"/>
<path d="M173.8 323.9 L175.7 327.9" stroke="#ff470c" stroke-width="5.1"/>
<path d="M207.6 327.6 L195.7 332" stroke="url(#g19)" stroke-width="5.1"/>
<path d="M205.1 328.9 L203.9 340.2" stroke="#ff470c" stroke-width="5.1"/>
<path d="M246.3 176.3 L246 178.3 L245.5 181 L244.9 184.3 L244.1 187.8 L243.2 191.3 L242.1 194.8 L240.8 198.5 L239.3 202.3 L237.8 206.2 L236.3 210.1 L234.9 213.9 L233.6 217.8 L232.2 221.7 L230.6 225.8 L228.8 230.1 L226.5 235.1 L223.7 240.5 L220.9 246 L218.3 251.1 L216.3 255.2 L214.9 258.3 L214 260.7 L213.3 262.6 L212.9 264.1 L212.5 265.2" stroke="url(#g20)" stroke-width="5.1"/>
<path d="M248.2 191.9 L247.7 193.7 L247 196.2 L246.2 199.1 L245.7 202.2 L245.7 205.1 L246.4 207.9 L247.5 210.9 L248.9 213.9 L250.3 216.6 L251.3 218.9 L252.1 220.7 L252.7 222.2 L253.2 223.4 L253.6 224.4 L253.9 225.1" stroke="url(#g21)" stroke-width="5.1"/>
<path d="M252.6 225.1 L254.3 225.7 L256.8 226.5 L259.7 227.5 L262.6 228.7 L265.1 230.1 L267.2 231.7 L269.2 233.5 L271.1 235.5 L273 237.7 L275.1 240.2 L277.6 242.9 L280.2 246.1 L282.9 249.4 L285.4 252.5 L287.7 255.2 L289.6 257.5 L291.4 259.6 L293 261.4 L294.2 262.9 L295.2 263.9" stroke="#ffe064" stroke-width="5.1"/>
<path d="M287.6 255.2 L295.1 272.6" stroke="url(#g22)" stroke-width="5.1"/>
<path d="M277.6 230.1 L279 231.1 L280.9 232.5 L283.1 234.1 L285.4 235.9 L287.7 237.6 L289.9 239.5 L292.1 241.6 L294.5 243.7 L296.7 245.8 L298.9 247.7 L301.1 249.4 L303.3 251.2 L305.4 252.7 L307.3 254.1 L309 255.2 L310.3 255.8 L311.3 256.2 L312.2 256.3 L312.8 256.4 L313.3 256.4" stroke="url(#g23)" stroke-width="5.1"/>
<path d="M302.7 245.2 L312.7 258.9" stroke="url(#g24)" stroke-width="5.1"/>
<path d="M250.1 230.1 L250.1 232.5 L250 235.8 L250 239.7 L250 243.8 L250.1 247.7 L250.3 251.7 L250.6 256.2 L250.9 260.5 L251.2 264.3 L251.3 267" stroke="url(#g25)" stroke-width="5.1"/>
<path d="M250.1 227.6 L250.6 229.5 L251.2 232.1 L252 235.1 L252.9 238.3 L253.9 241.4 L255 244.4 L256.2 247.5 L257.6 250.7 L258.9 253.7 L260.1 256.4 L261.3 259 L262.4 261.5 L263.5 263.7 L264.5 265.6 L265.1 267" stroke="#ff9c40" stroke-width="5.1"/>
<path d="M265.1 266.9 L265.6 268.9 L266.3 271.7 L267.1 275 L268 278.3 L268.8 281.3 L269.6 284 L270.4 286.7 L271.2 289.3 L271.9 291.7 L272.6 293.9 L273.1 295.7 L273.6 297.3 L273.9 298.8 L274.2 299.9 L274.5 300.7" stroke="url(#g26)" stroke-width="5.1"/>
<path d="M253.8 246.3 L254.1 250.8 L254.5 257.3 L255 264.6 L255.4 271.8 L255.7 277.6 L255.8 281.8 L255.9 285.3 L255.9 288.2 L255.8 291 L255.8 293.9 L255.8 297 L255.8 300.2 L255.7 303.2 L255.7 305.8 L255.7 307.6" stroke="url(#g27)" stroke-width="5.1"/>
<path d="M267.6 271.3 L268.8 273.9 L270.6 277.7 L272.6 281.9 L274.6 286.3 L276.3 290.1 L277.8 293.6 L279.1 297.1 L280.3 300.4 L281.3 303.1 L282 305.1" stroke="url(#g28)" stroke-width="5.1"/>
<path d="M280.1 247.5 L281.4 249.2 L283.4 251.6 L285.6 254.4 L287.9 257.3 L290.1 260 L292.4 262.8 L294.8 265.9 L297.2 268.8 L299.3 271.4 L300.8 273.2" stroke="url(#g29)" stroke-width="5.1"/>
<path d="M277.6 252.5 L278.6 254.8 L280 258 L281.7 261.7 L283.4 265.5 L285.1 268.8 L286.8 271.8 L288.7 274.9 L290.5 277.8 L292.1 280.2 L293.2 282" stroke="url(#g30)" stroke-width="5.1"/>
<path d="M280.1 268.8 L287 281.3" stroke="url(#g31)" stroke-width="5.1"/>
<path d="M276.4 222.6 L277.9 223.2 L280.1 224 L282.6 224.9 L285.2 226.1 L287.7 227.6 L290.1 229.7 L292.7 232.2 L295.2 234.9 L297.4 237.3 L298.9 238.9" stroke="url(#g32)" stroke-width="5.1"/>
<path d="M298.9 238.9 L300.9 239.4 L303.7 240 L306.9 240.7 L310 241.6 L312.7 242.7 L315 243.9 L317.2 245.5 L319.2 247.1 L320.9 248.6 L322.1 249.5" stroke="url(#g33)" stroke-width="5.1"/>
<path d="M298.9 240.2 L299.6 242.1 L300.6 244.8 L301.7 248 L302.9 251.2 L303.9 253.9 L305 256.3 L306.2 258.7 L307.3 260.8 L308.3 262.6 L309 263.9" stroke="url(#g34)" stroke-width="5.1"/>
<path d="M270.1 222.6 L270.7 224 L271.5 225.8 L272.5 228.1 L273.3 231.2 L273.9 235.1 L274.1 240.8 L274.2 248 L274.1 255.6 L273.9 262.3 L273.9 267" stroke="url(#g35)" stroke-width="5.1"/>
<path d="M273.8 266.9 L273.9 268.3 L274.1 270.3 L274.3 272.6 L274.5 275.1 L274.8 277.6 L275.3 280.3 L275.9 283.5 L276.6 286.7 L277.2 289.4 L277.6 291.3" stroke="url(#g36)" stroke-width="5.1"/>
<path d="M247 176.3 L248.3 177.4 L250.1 179 L252.2 180.8 L254.4 182.9 L256.4 185 L258.2 187.3 L260 189.8 L261.8 192.4 L263.5 195 L265.1 197.6 L266.6 200.1 L267.9 202.6 L269.1 205.2 L270.3 207.7 L271.4 210.1 L272.5 212.6 L273.5 215.2 L274.4 217.7 L275.2 219.9 L275.8 221.4" stroke="#ff6e24" stroke-width="5.1"/>
<path d="M248.8 191.3 L250.4 193.1 L252.6 195.6 L255.2 198.6 L257.8 201.9 L260.1 205.1 L262.4 208.6 L264.7 212.7 L266.9 216.7 L268.8 220.2 L270.1 222.6" stroke="#ff7f2e" stroke-width="5.1"/>
<path d="M240.1 208.8 L250.1 226.4" stroke="#ff8934" stroke-width="5.1"/>
<path d="M246.5 151.6 L249.1 152.9 L252.6 154.7 L256.8 157 L261.2 159.7 L265.3 162.8 L269.2 166.5 L273.2 170.7 L277.3 175.4 L281.3 180.3 L285.4 185.4 L289.7 191.2 L294.3 197.7 L298.8 204.3 L302.7 209.9 L305.4 213.9" stroke="url(#g37)" stroke-width="5.1"/>
<path d="M305.4 213.9 L307.8 217.1 L311.3 221.7 L315.3 227.1 L319.4 232.6 L322.9 237.7 L326.1 242.6 L329.4 247.9 L332.4 252.9 L334.9 257.2 L336.7 260.2" stroke="url(#g38)" stroke-width="5.1"/>
<path d="M336.7 260.2 L339.2 271.5" stroke="url(#g39)" stroke-width="5.1"/>
<path d="M336.7 260.2 L346.7 272.7" stroke="url(#g40)" stroke-width="5.1"/>
<path d="M246.3 176.3 L247.6 191.3" stroke="#ff470c" stroke-width="5.1"/>
<path d="M242.8 151.6 L242.5 174.1" stroke="#ff3401" stroke-width="5.1"/>
<path d="M245.5 153.3 L245.5 175.4" stroke="#ff3401" stroke-width="5.1"/>
<path d="M244 172.5 L243.8 174.9 L243.5 178.3 L243.1 182.2 L242.7 186.3 L242.3 190.1 L242 193.2 L241.9 195.9 L241.7 198.8 L241.2 202.5 L240.3 207.6 L238.7 214.8 L236.6 223.7 L234.2 233.2 L232 242.4 L230.2 250.2 L228.9 256.7 L227.8 262.7 L226.9 267.9 L226.3 272.1 L225.7 275.3" stroke="url(#g41)" stroke-width="5.1"/>
<path d="M230.2 250.2 L229.6 253.8 L228.7 258.9 L227.6 264.7 L226.6 270.5 L225.7 275.3 L225.1 278.3 L224.5 280.2 L224 282.1 L223.4 285.1 L222.7 290.3 L221.8 299 L220.6 310.7 L219.5 323 L218.4 334.1 L217.7 341.6" stroke="url(#g42)" stroke-width="5.1"/>

</g>
<path d="M74.5 374.5 v-4.5 M74.5 6.4 v4.5 M128.5 374.5 v-4.5 M128.5 6.4 v4.5 M182.5 374.5 v-4.5 M182.5 6.4 v4.5 M236.5 374.5 v-4.5 M236.5 6.4 v4.5 M289.5 374.5 v-4.5 M289.5 6.4 v4.5 M343.5 374.5 v-4.5 M343.5 6.4 v4.5 M397.5 374.5 v-4.5 M397.5 6.4 v4.5 M48.6 6.5 h4.5 M424.3 6.5 h-4.5 M48.6 54.5 h4.5 M424.3 54.5 h-4.5 M48.6 102.5 h4.5 M424.3 102.5 h-4.5 M48.6 150.5 h4.5 M424.3 150.5 h-4.5 M48.6 198.5 h4.5 M424.3 198.5 h-4.5 M48.6 246.5 h4.5 M424.3 246.5 h-4.5 M48.6 294.5 h4.5 M424.3 294.5 h-4.5 M48.6 342.5 h4.5 M424.3 342.5 h-4.5" stroke="#000" stroke-width="0.8" fill="none"/>
<rect x="48.6" y="6.4" width="375.7" height="368.1" fill="none" stroke="#000" stroke-width="1.2"/>
<text transform="translate(74.6 389.7) scale(1.07 1)" text-anchor="middle">−3</text>
<text transform="translate(128.5 389.7) scale(1.07 1)" text-anchor="middle">−2</text>
<text transform="translate(182.3 389.7) scale(1.07 1)" text-anchor="middle">−1</text>
<text transform="translate(236.2 389.7) scale(1.07 1)" text-anchor="middle">0</text>
<text transform="translate(290 389.7) scale(1.07 1)" text-anchor="middle">1</text>
<text transform="translate(343.8 389.7) scale(1.07 1)" text-anchor="middle">2</text>
<text transform="translate(397.7 389.7) scale(1.07 1)" text-anchor="middle">3</text>
<text transform="translate(44.8 11.6) scale(1.07 1)" text-anchor="end">0</text>
<text transform="translate(44.8 59.6) scale(1.07 1)" text-anchor="end">−1</text>
<text transform="translate(44.8 107.5) scale(1.07 1)" text-anchor="end">−2</text>
<text transform="translate(44.8 155.5) scale(1.07 1)" text-anchor="end">−3</text>
<text transform="translate(44.8 203.4) scale(1.07 1)" text-anchor="end">−4</text>
<text transform="translate(44.8 251.3) scale(1.07 1)" text-anchor="end">−5</text>
<text transform="translate(44.8 299.3) scale(1.07 1)" text-anchor="end">−6</text>
<text transform="translate(44.8 347.2) scale(1.07 1)" text-anchor="end">−7</text>
<text transform="translate(237 407.5) scale(1.07 1)" text-anchor="middle" class="lab">X [cm]</text>
<text transform="translate(15.1 190.4) rotate(-90) scale(1.07 1)" text-anchor="middle" class="lab">Z [cm]</text>
<rect x="556.6" y="6.4" width="376" height="368.1" fill="#eaeaea"/>
<path d="M582 6.4 V374.5 M635.8 6.4 V374.5 M689.6 6.4 V374.5 M743.5 6.4 V374.5 M797.3 6.4 V374.5 M851.1 6.4 V374.5 M904.9 6.4 V374.5 M556.6 6.4 H932.6 M556.6 54.4 H932.6 M556.6 102.3 H932.6 M556.6 150.3 H932.6 M556.6 198.2 H932.6 M556.6 246.2 H932.6 M556.6 294.1 H932.6 M556.6 342.1 H932.6" stroke="#bebebe" stroke-width="1.5" fill="none"/>
<g clip-path="url(#c43)" fill="none" stroke-linecap="round" stroke-linejoin="round">

<path d="M743.8 6.3 L743.8 48.8" stroke="#810000" stroke-width="5.1"/>
<path d="M710.8 151.3 L710.3 152.5 L709.7 154.1 L709 156 L708.3 158.4 L707.6 161.3 L707.1 164.9 L706.6 169.2 L706.1 173.7 L705.6 178.3 L705.1 182.6 L704.6 186.7 L704.1 190.7 L703.6 194.6 L703.1 198.2 L702.6 201.4 L702.2 204.2 L701.7 206.8 L701.3 208.9 L701 210.7 L700.7 212" stroke="url(#g44)" stroke-width="5.1"/>
<path d="M714.5 193.9 L714.9 195.7 L715.5 198.1 L716.1 201.1 L716.8 204.3 L717.6 207.7 L718.6 211.3 L719.6 215.3 L720.7 219.4 L721.8 223.4 L722.7 227 L723.4 229.8 L724 232.1 L724.5 234.2 L725 236.8 L725.3 240.2 L725.4 245 L725.5 251 L725.4 257.2 L725.3 262.7 L725.3 266.5" stroke="url(#g45)" stroke-width="5.1"/>
<path d="M713.9 195.1 L714.2 199.7 L714.7 206.2 L715.3 213.7 L715.9 220.9 L716.4 227 L716.9 231.6 L717.4 235.5 L717.9 239 L718.2 242.1 L718.5 245.2 L718.6 248.3 L718.6 251.2 L718.5 253.9 L718.3 256.1 L718.3 257.7" stroke="url(#g46)" stroke-width="5.1"/>
<path d="M715.3 195.1 L716.7 199.2 L718.7 204.9 L721.1 211.6 L723.3 218.6 L725.3 225.2 L726.9 231.8 L728.3 239.1 L729.7 246.1 L730.7 252.2 L731.5 256.5" stroke="url(#g47)" stroke-width="5.1"/>
<path d="M705.2 228.8 L706.3 230.3 L707.8 232.4 L709.5 234.9 L711.2 237.5 L712.7 240 L714 242.6 L715.2 245.3 L716.2 248 L717.1 250.5 L717.7 252.6 L717.9 254.2 L717.8 255.6 L717.6 256.7 L717.3 257.5 L717.1 258.2" stroke="#ffd75e" stroke-width="5.1"/>
<path d="M713.3 252.6 L710.8 258.8" stroke="url(#g48)" stroke-width="5.1"/>
<path d="M701.4 254.4 L700.2 255.8 L698.4 257.6 L696.4 259.8 L694.4 261.9 L692.7 263.8 L691.3 265.6 L689.9 267.3 L688.7 269 L687.8 270.4 L687 271.4" stroke="#ffd75e" stroke-width="5.1"/>
<path d="M700.2 256.3 L699.5 257.9 L698.5 260 L697.3 262.5 L696.1 265.1 L695.2 267.6 L694.4 270.1 L693.6 272.9 L693 275.6 L692.4 277.9 L692 279.5" stroke="#ffd05a" stroke-width="5.1"/>
<path d="M703.3 223.8 L703.5 226 L703.7 229.2 L703.9 232.9 L704 236.7 L703.9 240 L703.6 243.2 L703 246.4 L702.4 249.4 L701.8 252 L701.4 253.8" stroke="url(#g49)" stroke-width="5.1"/>
<path d="M702.1 254.4 L702.9 256.2 L704.1 258.7 L705.4 261.6 L706.7 264.7 L707.7 267.6 L708.3 270.6 L708.8 274 L709.1 277.2 L709.4 280 L709.6 282" stroke="url(#g50)" stroke-width="5.1"/>
<path d="M698.9 160.7 L698 161.8 L696.7 163.5 L695.2 165.4 L693.8 167.2 L692.6 168.8 L691.6 170.2 L690.6 171.6 L689.8 172.8 L689.1 173.9 L688.6 174.6" stroke="url(#g51)" stroke-width="5.1"/>
<path d="M688.6 174.6 L687.3 176.6" stroke="url(#g52)" stroke-width="5.1"/>
<path d="M687 177.4 L683.8 181" stroke="url(#g53)" stroke-width="5.1"/>
<path d="M702.7 222.5 L700.7 224.4 L698 226.9 L694.8 230 L691.2 233.6 L687.7 237.5 L683.9 242.3 L679.9 247.9 L675.7 253.8 L671.6 259.3 L667.6 263.8 L663.7 267.4 L659.6 270.4 L655.7 272.9 L652.4 274.9 L650.1 276.4" stroke="url(#g54)" stroke-width="5.1"/>
<path d="M743.8 49.6 L742.7 51.2 L741.1 53.4 L739.2 56.1 L737.2 59.2 L735.3 62.6 L733.3 66.5 L731.3 70.8 L729.2 75.5 L727.1 80.3 L725.3 85.2 L723.5 90.1 L721.9 95.3 L720.4 100.4 L719 105.5 L717.7 110.2 L716.5 114.9 L715.3 119.6 L714.2 123.9 L713.4 127.6 L712.7 130.3" stroke="url(#g55)" stroke-width="5.1"/>
<path d="M743.8 49.6 L745 51.6 L746.7 54.4 L748.7 57.7 L750.8 61.3 L752.8 65.1 L754.8 69 L756.8 73.2 L758.9 77.6 L760.9 82.4 L762.8 87.7 L764.7 93.5 L766.5 99.9 L768.2 106.6 L769.9 113.4 L771.6 120.2 L773.3 127.7 L775.1 135.8 L776.7 143.7 L778.1 150.5 L779.1 155.3" stroke="url(#g56)" stroke-width="5.1"/>
<path d="M677.4 226.9 L676.8 228 L676.1 229.3 L675.1 231.1 L674 233.4 L672.6 236.3 L670.9 240.3 L668.8 245.4 L666.5 250.8 L664.6 255.6 L663.2 258.8" stroke="url(#g57)" stroke-width="5.1"/>
<path d="M663.2 258.8 L650.1 270.7" stroke="#ff3702" stroke-width="5.1"/>
<path d="M663.9 260.1 L667.6 272.6" stroke="#ff470c" stroke-width="5.1"/>
<path d="M663.9 265.1 L661.4 280.7" stroke="#ff6e24" stroke-width="5.1"/>
<path d="M711.1 153.8 L711.4 155.9 L711.9 158.9 L712.4 162.3 L712.9 166.2 L713.3 170.1 L713.5 174.6 L713.7 179.7 L713.8 184.9 L713.8 189.5 L713.9 192.6" stroke="#ff6e24" stroke-width="5.1"/>
<path d="M713.9 192.6 L712.8 195.1 L711.3 198.5 L709.5 202.5 L707.8 206.5 L706.4 210.2 L705.2 213.6 L704.2 217.1 L703.3 220.4 L702.5 223.2 L702 225.2" stroke="url(#g58)" stroke-width="5.1"/>
<path d="M698.9 175.1 L699 177.6 L699.1 181.1 L699.3 185.3 L699.3 190.1 L699.1 195.1 L698.6 200.9 L697.9 207.4 L697 214.3 L696 220.9 L695.1 227 L694.2 231.9 L693.3 236.2 L692.4 240.3 L691.4 244.8 L690.2 250.2 L688.8 257.1 L687.2 265 L685.6 273.3 L684 281.2 L682.7 287.8 L681.6 292.9 L680.7 297.2 L679.8 300.8 L679 304.2 L678.2 307.8 L677.2 311.8 L676.3 315.9 L675.3 319.7 L674.5 323 L673.9 325.4" stroke="url(#g59)" stroke-width="5.1"/>
<path d="M673.9 325.4 L666.4 337.9" stroke="url(#g60)" stroke-width="5.1"/>
<path d="M673.9 325.4 L670.7 339.1" stroke="url(#g61)" stroke-width="5.1"/>
<path d="M673.9 326.6 L682.7 336.6" stroke="url(#g62)" stroke-width="5.1"/>
<path d="M713.9 127.5 L713.6 129.2 L713.2 131.7 L712.8 134.5 L712.4 137.4 L712 140 L711.7 142.6 L711.4 145.2 L711.1 147.7 L710.9 149.8 L710.8 151.3" stroke="#ff3401" stroke-width="5.1"/>
<path d="M713.9 127.5 L713.4 130 L712.8 133.5 L712.1 137.6 L711.2 141.6 L710.1 145 L708.9 147.8 L707.4 150.2 L705.8 152.5 L704.2 154.9 L702.6 157.6 L701 160.8 L699.3 164.6 L697.6 168.3 L696.1 171.6 L695.1 173.9" stroke="#ff3401" stroke-width="5.1"/>
<path d="M710.8 151.3 L709.3 153.8 L707.2 157.2 L704.8 161.2 L702.4 165.6 L700.1 170.1 L698.1 174.6 L696.2 179.3 L694.3 184.3 L692.2 189.6 L690.1 195.1 L687.5 201.6 L684.7 208.9 L681.8 216.2 L679.3 222.5 L677.6 227" stroke="url(#g63)" stroke-width="5.1"/>
<path d="M695.1 173.9 L692.8 175.9 L689.5 178.7 L685.6 182.2 L681.5 186.4 L677.6 191.4 L673.5 197.7 L669.1 205.5 L664.8 213.7 L660.8 221.1 L657.5 227 L655.4 230.4 L654 232.1 L653 233.1 L651.9 234.6 L650.1 237.5 L647.3 242.8 L643.9 249.6 L640.4 256.8 L637.2 263.2 L635.1 267.6" stroke="url(#g64)" stroke-width="5.1"/>
<path d="M635.1 267.6 L620 278.2" stroke="#ff4d10" stroke-width="5.1"/>
<path d="M620 278.2 L608.8 280.1" stroke="url(#g65)" stroke-width="5.1"/>
<path d="M620 279.5 L616.9 291.4" stroke="url(#g66)" stroke-width="5.1"/>
<path d="M635.7 268.9 L635.8 271 L636 274.1 L636.1 277.7 L636.2 281.5 L635.9 285.1 L635.3 288.9 L634.5 293.1 L633.5 297.2 L632.5 300.8 L631.9 303.3" stroke="url(#g67)" stroke-width="5.1"/>
<path d="M631.9 303.3 L629.8 303.3" stroke="#ff3702" stroke-width="5.1"/>
<path d="M631.9 303.3 L633.8 303.9" stroke="#ff3702" stroke-width="5.1"/>
<path d="M779.4 155.7 L797.6 175.7" stroke="#ff3401" stroke-width="5.1"/>
<path d="M797.6 175.7 L799.7 176.7 L802.6 178.2 L806 179.9 L809.5 181.8 L812.6 183.8 L815.2 185.8 L817.5 187.9 L819.9 190.1 L822.3 192.9 L825.1 196.4 L828.6 201.2 L832.6 207.1 L836.7 213.4 L840.2 218.9 L842.7 222.7" stroke="url(#g68)" stroke-width="5.1"/>
<path d="M797.6 176.3 L798.2 179 L799 182.6 L800 187 L801.2 191.7 L802.6 196.4 L804.2 201 L806.1 206 L808.2 211.1 L810.4 216.3 L812.6 221.4 L814.7 225.8 L816.7 229.5 L818.9 233.5 L821.6 239 L825.1 247 L830 258.8 L835.9 273.9 L842.2 290.1 L848.1 305.1 L852.6 317 L855.7 325.2 L857.9 331.2 L859.5 335.6 L860.6 338.9 L861.5 341.5" stroke="url(#g69)" stroke-width="5.1"/>
<path d="M842.6 223.1 L856.4 239.4" stroke="url(#g70)" stroke-width="5.1"/>
<path d="M856.4 239.4 L857.9 239.6 L860 239.7 L862.5 240 L865.2 240.5 L867.6 241.3 L870.2 242.8 L872.9 244.7 L875.6 246.9 L877.9 248.8 L879.5 250.1" stroke="url(#g71)" stroke-width="5.1"/>
<path d="M856.4 240.7 L857.4 242.7 L858.8 245.5 L860.5 248.7 L862.2 252.1 L863.9 255.1 L865.5 258 L867.3 261.1 L869.1 264 L870.6 266.5 L871.6 268.2" stroke="url(#g72)" stroke-width="5.1"/>
<path d="M855.7 242.6 L855.1 244.1 L854.3 246.3 L853.4 248.9 L852.3 251.5 L851.3 253.8 L850.3 256.1 L849.1 258.5 L847.9 260.8 L846.8 262.7 L846.1 264.1" stroke="url(#g73)" stroke-width="5.1"/>
<path d="M842.6 223.8 L843.2 226.1 L844.2 229.5 L845.3 233.4 L846.4 237.4 L847.6 241.3 L848.6 244.8 L849.5 248.1 L850.6 251.6 L851.9 255.5 L853.9 260.1 L856.7 266.2 L860.4 273.5 L864.3 280.9 L867.8 287.5 L870.1 292" stroke="url(#g74)" stroke-width="5.1"/>
<path d="M755.1 270.1 L754 271.7 L752.5 273.9 L750.7 276.4 L749 279 L747.6 281.4 L746.4 283.7 L745.4 286.2 L744.5 288.6 L743.7 290.6 L743.2 292" stroke="url(#g75)" stroke-width="5.1"/>
<path d="M751.3 275.1 L750.9 276.7 L750.2 278.9 L749.4 281.4 L748.7 284 L748.2 286.4 L747.9 288.8 L747.7 291.2 L747.6 293.6 L747.6 295.6 L747.6 297.1" stroke="url(#g76)" stroke-width="5.1"/>
<path d="M757.6 260.1 L760.7 268.3" stroke="#ffae48" stroke-width="5.1"/>
<path d="M761.3 260.1 L765.7 265.1" stroke="#ffb94d" stroke-width="5.1"/>
<path d="M748.8 253.9 L747.6 256.2 L745.8 259.5 L743.8 263.4 L741.8 267.5 L740 271.4 L738.6 275.1 L737.3 278.9 L736 282.7 L734.9 286.5 L733.8 290.2 L732.7 293.9 L731.7 297.8 L730.7 301.5 L730 304.7 L729.4 307" stroke="url(#g77)" stroke-width="5.1"/>
<path d="M757 247.6 L757.1 249.3 L757.2 251.7 L757.4 254.5 L757.6 257.4 L757.6 260.1 L757.3 262.6 L756.9 265 L756.5 267.4 L756.2 270 L756.3 272.6 L757 275.5 L758 278.4 L759.3 281.4 L760.4 284.5 L761.3 287.7 L761.9 291.1 L762.4 294.9 L762.7 298.5 L763 301.7 L763.2 303.9" stroke="url(#g78)" stroke-width="5.1"/>
<path d="M774.6 268.3 L774.2 269.5 L773.6 271.3 L772.9 273.4 L772.1 275.6 L771.4 277.6 L770.6 279.5 L769.8 281.2 L769 283 L768.3 285.1 L767.6 287.7 L767 290.9 L766.5 294.6 L766 298.7 L765.5 302.8 L765.1 307 L764.7 311.4 L764.4 316.2 L764 320.9 L763.8 325 L763.6 327.9" stroke="url(#g79)" stroke-width="5.1"/>
<path d="M767 211.3 L767.6 214 L768.4 217.9 L769.4 222.4 L770.4 227.1 L771.4 231.3 L772.2 235.2 L773 239.2 L773.8 243.1 L774.5 246.8 L775.1 250.1 L775.4 252.9 L775.4 255.3 L775.4 257.5 L775.7 259.8 L776.4 262.6 L777.7 265.9 L779.4 269.4 L781.4 273.1 L783.3 277.1 L785.1 281.4 L786.8 286 L788.4 290.9 L789.9 296 L791.4 301.4 L792.6 307 L793.7 313.3 L794.7 320.4 L795.5 327.5 L796.2 333.6 L796.7 337.9" stroke="url(#g80)" stroke-width="5.1"/>
<path d="M763.2 226.9 L764.8 228.2 L767.1 230 L769.7 232.2 L772.5 234.8 L775.1 237.6 L777.7 240.8 L780.3 244.6 L783 248.6 L785.4 252.6 L787.6 256.4 L789.6 260 L791.4 263.8 L792.9 267.4 L794.2 270.5 L795.2 272.6" stroke="url(#g81)" stroke-width="5.1"/>
<path d="M763.2 228.8 L763.2 231.2 L763.1 234.6 L763.1 238.5 L763.3 242.5 L763.8 246.3 L764.9 249.8 L766.2 253.2 L767.8 256.6 L769.6 260.1 L771.4 263.9 L773.3 268 L775.4 272.4 L777.6 276.9 L779.6 281.2 L781.4 285.2 L782.9 288.8 L784.2 292.3 L785.4 295.6 L786.3 298.2 L787 300.2" stroke="url(#g82)" stroke-width="5.1"/>
<path d="M766.3 207.5 L762.6 223.8" stroke="#ff8f38" stroke-width="5.1"/>
<path d="M762.6 224.4 L761.9 225.6 L760.8 227.4 L759.6 229.4 L758.5 231.6 L757.6 233.8 L757 236.2 L756.5 238.8 L756.2 241.5 L755.7 244.1 L755.1 246.3 L754.1 248.3 L752.8 250.1 L751.4 251.6 L750.3 252.9 L749.4 253.9" stroke="url(#g83)" stroke-width="5.1"/>
<path d="M749.4 254.1 L749.8 256.4" stroke="url(#g84)" stroke-width="5.1"/>
<path d="M749.8 257 L750.1 259.1" stroke="url(#g85)" stroke-width="5.1"/>
<path d="M779.4 155.7 L778.4 157.3 L777 159.6 L775.4 162.3 L773.9 165.4 L772.5 168.8 L771.4 172.6 L770.5 176.9 L769.6 181.5 L768.8 185.9 L768.1 190.1 L767.6 194.1 L767.2 198.2 L766.9 202.1 L766.7 205.3 L766.5 207.6" stroke="#ff3401" stroke-width="5.1"/>

</g>
<path d="M581.5 374.5 v-4.5 M581.5 6.4 v4.5 M635.5 374.5 v-4.5 M635.5 6.4 v4.5 M689.5 374.5 v-4.5 M689.5 6.4 v4.5 M743.5 374.5 v-4.5 M743.5 6.4 v4.5 M797.5 374.5 v-4.5 M797.5 6.4 v4.5 M851.5 374.5 v-4.5 M851.5 6.4 v4.5 M904.5 374.5 v-4.5 M904.5 6.4 v4.5 M556.6 6.5 h4.5 M932.6 6.5 h-4.5 M556.6 54.5 h4.5 M932.6 54.5 h-4.5 M556.6 102.5 h4.5 M932.6 102.5 h-4.5 M556.6 150.5 h4.5 M932.6 150.5 h-4.5 M556.6 198.5 h4.5 M932.6 198.5 h-4.5 M556.6 246.5 h4.5 M932.6 246.5 h-4.5 M556.6 294.5 h4.5 M932.6 294.5 h-4.5 M556.6 342.5 h4.5 M932.6 342.5 h-4.5" stroke="#000" stroke-width="0.8" fill="none"/>
<rect x="556.6" y="6.4" width="376" height="368.1" fill="none" stroke="#000" stroke-width="1.2"/>
<text transform="translate(582 389.7) scale(1.07 1)" text-anchor="middle">−3</text>
<text transform="translate(635.8 389.7) scale(1.07 1)" text-anchor="middle">−2</text>
<text transform="translate(689.6 389.7) scale(1.07 1)" text-anchor="middle">−1</text>
<text transform="translate(743.5 389.7) scale(1.07 1)" text-anchor="middle">0</text>
<text transform="translate(797.3 389.7) scale(1.07 1)" text-anchor="middle">1</text>
<text transform="translate(851.1 389.7) scale(1.07 1)" text-anchor="middle">2</text>
<text transform="translate(904.9 389.7) scale(1.07 1)" text-anchor="middle">3</text>
<text transform="translate(552.8 11.6) scale(1.07 1)" text-anchor="end">0</text>
<text transform="translate(552.8 59.6) scale(1.07 1)" text-anchor="end">−1</text>
<text transform="translate(552.8 107.5) scale(1.07 1)" text-anchor="end">−2</text>
<text transform="translate(552.8 155.5) scale(1.07 1)" text-anchor="end">−3</text>
<text transform="translate(552.8 203.4) scale(1.07 1)" text-anchor="end">−4</text>
<text transform="translate(552.8 251.3) scale(1.07 1)" text-anchor="end">−5</text>
<text transform="translate(552.8 299.3) scale(1.07 1)" text-anchor="end">−6</text>
<text transform="translate(552.8 347.2) scale(1.07 1)" text-anchor="end">−7</text>
<text transform="translate(745.1 407.5) scale(1.07 1)" text-anchor="middle" class="lab">Y [cm]</text>
<text transform="translate(523.1 190.4) rotate(-90) scale(1.07 1)" text-anchor="middle" class="lab">Z [cm]</text>
<rect x="48.6" y="447.4" width="375.7" height="367.5" fill="#eaeaea"/>
<path d="M74.6 447.4 V814.9 M128.5 447.4 V814.9 M182.3 447.4 V814.9 M236.2 447.4 V814.9 M290 447.4 V814.9 M343.8 447.4 V814.9 M397.7 447.4 V814.9 M48.6 474.9 H424.3 M48.6 527.4 H424.3 M48.6 579.9 H424.3 M48.6 632.4 H424.3 M48.6 684.9 H424.3 M48.6 737.4 H424.3 M48.6 789.9 H424.3" stroke="#bebebe" stroke-width="1.5" fill="none"/>
<g clip-path="url(#c86)" fill="none" stroke-linecap="round" stroke-linejoin="round">

<path d="M245.1 597.6 L245.3 599 L245.8 601 L246.2 603.3 L246.5 605.6 L246.6 607.6 L246.3 609.4 L245.7 611.1 L244.9 612.7 L244.3 614.1 L243.8 615.1" stroke="url(#g87)" stroke-width="5.1"/>
<path d="M223.8 619.5 L225 619.2 L226.6 618.9 L228.5 618.5 L230.6 618 L232.6 617.3 L234.5 616.5 L236.6 615.5 L238.7 614.4 L240.7 613.3 L242.6 612.6 L244.4 612.1 L246.1 611.8 L247.7 611.6 L249.1 611.4 L250.1 611.3" stroke="url(#g88)" stroke-width="5.1"/>
<path d="M255.1 612.6 L256.8 611.2 L259.2 609.2 L262 607 L264.9 604.6 L267.6 602.6 L270.1 600.7 L272.6 598.9 L275.1 597.2 L277.6 595.4 L280.1 593.8 L282.7 592.2 L285.3 590.6 L287.9 589 L290.4 587.6 L292.7 586.3 L294.8 585.1 L296.9 584 L298.7 583 L300.3 582.1 L301.4 581.5" stroke="url(#g89)" stroke-width="5.1"/>
<path d="M260.1 607.6 L260.8 606.7 L261.7 605.5 L262.9 604.1 L264 602.7 L265.1 601.3 L266.1 600 L267.1 598.7 L268.2 597.5 L269.2 596.2 L270.1 595 L271.1 593.9 L272.1 592.7 L273.1 591.6 L273.9 590.7 L274.5 590" stroke="url(#g90)" stroke-width="5.1"/>
<path d="M280.1 618.8 L281.6 618.2 L283.7 617.4 L286 616.3 L288.3 615.3 L290.2 614.5 L291.6 613.7 L292.9 612.9 L293.9 612.1 L294.8 611.5 L295.4 611.1" stroke="url(#g91)" stroke-width="5.1"/>
<path d="M291.4 614.1 L295.8 616.6" stroke="url(#g92)" stroke-width="5.1"/>
<path d="M265.1 623.9 L266.1 624.8 L267.5 626.1 L269.1 627.5 L270.8 629 L272.6 630.1 L274.6 631 L276.9 631.7 L279.2 632.4 L281.2 632.9 L282.6 633.2" stroke="url(#g93)" stroke-width="5.1"/>
<path d="M255.1 622.6 L255.3 624.4 L255.6 627 L255.9 630 L256.2 632.8 L256.3 635.1 L256.4 636.8 L256.4 638.2 L256.3 639.4 L256.2 640.4 L256.1 641.4 L256 642.4 L255.9 643.2 L255.8 644 L255.8 644.7 L255.7 645.1" stroke="url(#g94)" stroke-width="5.1"/>
<path d="M267.6 615.7 L268.6 615.4 L270.1 615 L271.7 614.6 L273.5 614.2 L275.1 613.8 L276.8 613.6 L278.6 613.5 L280.3 613.4 L281.8 613.3 L282.9 613.2" stroke="url(#g95)" stroke-width="5.1"/>
<path d="M247.6 650.2 L249.5 650.4 L252.2 650.8 L255.4 651.2 L258.5 651.4 L261.4 651.4 L263.9 651.1 L266.3 650.5 L268.7 649.8 L270.8 649 L272.6 648.3 L274.1 647.5 L275.4 646.6 L276.4 645.8 L277.3 645 L277.9 644.5" stroke="url(#g96)" stroke-width="5.1"/>
<path d="M212.5 652 L214.9 652.7 L218.4 653.6 L222.4 654.7 L226.4 655.7 L230 656.4 L233.4 657 L236.7 657.5 L239.9 657.8 L242.8 657.9 L245.1 657.7 L246.8 656.9 L248 655.6 L248.9 654.2 L249.6 652.9 L250.1 652" stroke="url(#g97)" stroke-width="5.1"/>
<path d="M248.8 650.2 L253.2 652" stroke="#ffc050" stroke-width="5.1"/>
<path d="M273.8 670.1 L275.9 668.8 L278.9 667 L282.3 664.9 L286.2 662.9 L290.1 661.3 L294.6 660 L299.7 658.8 L304.9 657.7 L309.5 656.9 L312.6 656.3" stroke="url(#g98)" stroke-width="5.1"/>
<path d="M310.1 656.9 L311.6 659.8" stroke="url(#g99)" stroke-width="5.1"/>
<path d="M280.1 673.2 L280.9 672.5 L282 671.4 L283.4 670.2 L284.9 669.1 L286.3 668.2 L288 667.6 L289.8 667.1 L291.7 666.8 L293.3 666.5 L294.5 666.3" stroke="url(#g100)" stroke-width="5.1"/>
<path d="M281.3 675.1 L281.2 676.1 L281.1 677.5 L280.9 679.2 L280.7 680.7 L280.3 682 L279.7 682.8 L279 683.4 L278.2 683.8 L277.4 684.2 L276.9 684.5" stroke="url(#g101)" stroke-width="5.1"/>
<path d="M175.1 668.8 L171.8 668.9 L167.1 668.9 L161.7 669 L156.2 669.2 L151.3 669.4 L146.7 669.9 L142.1 670.4 L137.7 671 L133.9 671.6 L131.3 672" stroke="url(#g102)" stroke-width="5.1"/>
<path d="M131.3 672 L128.1 670.1" stroke="url(#g103)" stroke-width="5.1"/>
<path d="M131.3 672 L130.6 675.7" stroke="#ffb24a" stroke-width="5.1"/>
<path d="M246 579 L244.9 577.7 L243.4 575.9 L241.6 573.6 L239.7 570.9 L237.8 567.7 L235.8 563.9 L233.7 559.3 L231.6 554.5 L229.5 549.6 L227.7 545.2 L226.2 541 L224.8 536.9 L223.6 533.1 L222.5 529.5 L221.5 526.4 L220.5 523.8 L219.6 521.6 L218.8 519.7 L218.2 518.2 L217.7 517.1" stroke="url(#g104)" stroke-width="5.1"/>
<path d="M246 579 L247.9 576.1 L250.6 572 L253.8 567.3 L257.1 562.3 L260.3 557.7 L263.7 553.1 L267.5 548.2 L271.1 543.4 L274.3 539.3 L276.6 536.4" stroke="#ff6e24" stroke-width="5.1"/>
<path d="M276.6 536.4 L275.9 535 L275 532.9 L273.9 530.5 L273.1 527.9 L272.8 525.2 L273.3 522.1 L274.3 518.5 L275.5 514.9 L276.6 511.8 L277.3 509.6" stroke="url(#g105)" stroke-width="5.1"/>
<path d="M277.3 536.4 L300.4 522.6" stroke="#ff8230" stroke-width="5.1"/>
<path d="M300.4 522.6 L310.4 508.9" stroke="url(#g106)" stroke-width="5.1"/>
<path d="M301.6 521.4 L322.9 500.1" stroke="url(#g107)" stroke-width="5.1"/>
<path d="M301.6 523.9 L312.9 532.7" stroke="url(#g108)" stroke-width="5.1"/>
<path d="M240.3 609.1 L211.5 600.3" stroke="url(#g109)" stroke-width="5.1"/>
<path d="M211.5 600.3 L211.9 598.9 L212.7 597 L213.5 594.8 L214 592.4 L214.2 590.3 L213.8 588.1 L212.9 585.8 L211.8 583.5 L210.9 581.6 L210.2 580.3" stroke="url(#g110)" stroke-width="5.1"/>
<path d="M211.5 600.3 L208.8 601.6 L205 603.4 L200.6 605.5 L196.3 607.5 L192.7 609.1 L189.7 610.1 L187.1 610.9 L184.7 611.4 L182.4 611.9 L180.1 612.3 L177.8 612.7 L175.5 612.9 L173.3 613.1 L171.4 613.2 L170.1 613.3" stroke="url(#g111)" stroke-width="5.1"/>
<path d="M237.6 608.8 L239.6 609.5 L242.6 610.5 L245.9 611.7 L249 612.9 L251.3 614.1 L252.8 615.3 L253.7 616.7 L254.3 618.1 L254.7 619.3 L255.1 620.1" stroke="url(#g112)" stroke-width="5.1"/>
<path d="M252.6 613.8 L253.6 614.4 L254.9 615.1 L256.6 616 L258.3 616.9 L260.1 617.6 L261.9 618.2 L263.9 618.7 L266 619.2 L268.1 619.7 L270.1 620.1 L272.3 620.4 L274.6 620.7 L276.9 621 L278.8 621.2 L280.1 621.3" stroke="url(#g113)" stroke-width="5.1"/>
<path d="M280.1 621.3 L281.1 621.9 L282.5 622.7 L284.1 623.6 L285.9 624.4 L287.7 625.1 L289.7 625.6 L292 626.1 L294.3 626.5 L296.3 626.8 L297.7 627" stroke="url(#g114)" stroke-width="5.1"/>
<path d="M297.9 627 L299.7 627" stroke="url(#g115)" stroke-width="5.1"/>
<path d="M300.2 627 L301.7 627" stroke="url(#g116)" stroke-width="5.1"/>
<path d="M227.7 664.4 L195.1 666.9" stroke="#ffa343" stroke-width="5.1"/>
<path d="M195.1 666.3 L191.7 665.3 L186.8 663.9 L181.1 662.3 L175.3 660.8 L170.1 659.4 L165.2 658.3 L160.1 657.3 L155.2 656.4 L151.1 655.6 L148.2 655" stroke="url(#g117)" stroke-width="5.1"/>
<path d="M148.2 654.4 L141.3 643.8" stroke="url(#g118)" stroke-width="5.1"/>
<path d="M148.2 656.3 L141.9 665.1" stroke="url(#g119)" stroke-width="5.1"/>
<path d="M195.1 666.9 L176.4 670.1" stroke="#0000f7" stroke-width="5.1"/>
<path d="M176.4 670.1 L174.3 670.9 L171.5 672 L168.1 673.4 L164.6 674.8 L161.3 676.3 L158 678 L154.4 680 L150.8 682 L147.8 683.7 L145.7 684.9" stroke="url(#g120)" stroke-width="5.1"/>
<path d="M145.4 685.1 L144 686.6" stroke="url(#g121)" stroke-width="5.1"/>
<path d="M143.5 687.6 L141.3 690.7" stroke="url(#g122)" stroke-width="5.1"/>
<path d="M212.7 652.5 L214.5 652.9 L217 653.4 L219.9 653.9 L223.2 654.5 L226.4 655 L230.2 655.6 L234.5 656.2 L238.8 656.7 L242.6 657.2 L245.2 657.6" stroke="url(#g123)" stroke-width="5.1"/>
<path d="M229 663.6 L245.2 665.4" stroke="#ff3401" stroke-width="5.1"/>
<path d="M240 664.4 L245 665" stroke="#ff3401" stroke-width="5.1"/>
<path d="M246.3 661.9 L270.1 672.6" stroke="url(#g124)" stroke-width="5.1"/>
<path d="M245 665 L270.1 674.4" stroke="#ffa042" stroke-width="5.1"/>
<path d="M269.4 675.1 L269.8 677.5 L270.4 680.9 L271.1 684.8 L271.8 688.9 L272.6 692.6 L273.3 696.2 L274.2 700 L275.1 703.6 L275.8 706.7 L276.3 708.9" stroke="url(#g125)" stroke-width="5.1"/>
<path d="M276.3 708.9 L288.2 714.1" stroke="#ff8f38" stroke-width="5.1"/>
<path d="M275.7 709.5 L270.1 725.2" stroke="url(#g126)" stroke-width="5.1"/>
<path d="M270.1 673.8 L272.7 675.3 L276.4 677.4 L280.8 679.9 L285.4 682.5 L290.1 685.1 L294.9 687.7 L300 690.5 L305.2 693.3 L310.3 696.1 L315.1 698.9 L319.9 701.6 L324.7 704.6 L329.2 707.3 L333.1 709.7 L335.8 711.4" stroke="url(#g127)" stroke-width="5.1"/>
<path d="M335.8 711.4 L347.1 707" stroke="url(#g128)" stroke-width="5.1"/>
<path d="M335.8 712.6 L339.6 725.2" stroke="url(#g129)" stroke-width="5.1"/>
<path d="M219.8 679 L219.3 680.6 L218.5 682.8 L217.5 685.3 L216.5 687.9 L215.4 690.4 L214.2 692.9 L212.7 695.5 L211.2 698 L210 700.2 L209.1 701.8" stroke="#de2804" stroke-width="5.1"/>
<path d="M209.1 701.8 L217.9 708.1" stroke="url(#g130)" stroke-width="5.1"/>
<path d="M209.1 701.8 L204 704.9" stroke="#ff5414" stroke-width="5.1"/>
<path d="M203.4 691 L205 696.1" stroke="#ff7c2c" stroke-width="5.1"/>
<path d="M195.2 700.2 L201.5 700.6" stroke="url(#g131)" stroke-width="5.1"/>
<path d="M221.1 678.4 L220 679.7 L218.4 681.6 L216.5 683.8 L214.6 685.9 L212.9 687.9 L211.4 689.4 L210 690.8 L208.6 692.1 L207 693.6 L205.3 695.5 L203.4 697.5 L201.3 699.7 L199.1 702.1 L196.6 705.1 L193.9 709 L190.7 714.1 L187.1 720.5 L183.4 727.2 L179.7 733.6 L176.3 738.8 L173.2 742.9 L170.3 746.2 L167.5 749 L164.9 751.5 L162.6 753.9 L160.4 756.3 L158.5 758.5 L156.8 760.5 L155.4 762.1 L154.4 763.3" stroke="url(#g132)" stroke-width="5.1"/>
<path d="M176.3 738.8 L178.2 742.3" stroke="#ff470c" stroke-width="5.1"/>
<path d="M160.1 752.6 L157.6 756.4" stroke="#ff8934" stroke-width="5.1"/>
<path d="M228.7 664.5 L219.2 678.4" stroke="#ff3401" stroke-width="5.1"/>
<path d="M246.3 578.8 L243.2 596.3" stroke="#ff3401" stroke-width="5.1"/>
<path d="M243.2 596.3 L242.2 601.3 L240.9 608.4 L239.3 616.5 L237.7 624.8 L236.3 632.2 L235 639.2 L233.7 646.3 L232.5 653 L231.4 658.6 L230.7 662.7" stroke="#cb2003" stroke-width="5.1"/>
<path d="M236.3 632.2 L236.3 632.3" stroke="#810000" stroke-width="5.1"/>

</g>
<path d="M74.5 814.9 v-4.5 M74.5 447.4 v4.5 M128.5 814.9 v-4.5 M128.5 447.4 v4.5 M182.5 814.9 v-4.5 M182.5 447.4 v4.5 M236.5 814.9 v-4.5 M236.5 447.4 v4.5 M289.5 814.9 v-4.5 M289.5 447.4 v4.5 M343.5 814.9 v-4.5 M343.5 447.4 v4.5 M397.5 814.9 v-4.5 M397.5 447.4 v4.5 M48.6 474.5 h4.5 M424.3 474.5 h-4.5 M48.6 527.5 h4.5 M424.3 527.5 h-4.5 M48.6 579.5 h4.5 M424.3 579.5 h-4.5 M48.6 632.5 h4.5 M424.3 632.5 h-4.5 M48.6 684.5 h4.5 M424.3 684.5 h-4.5 M48.6 737.5 h4.5 M424.3 737.5 h-4.5 M48.6 789.5 h4.5 M424.3 789.5 h-4.5" stroke="#000" stroke-width="0.8" fill="none"/>
<rect x="48.6" y="447.4" width="375.7" height="367.5" fill="none" stroke="#000" stroke-width="1.2"/>
<text transform="translate(74.6 830.1) scale(1.07 1)" text-anchor="middle">−3</text>
<text transform="translate(128.5 830.1) scale(1.07 1)" text-anchor="middle">−2</text>
<text transform="translate(182.3 830.1) scale(1.07 1)" text-anchor="middle">−1</text>
<text transform="translate(236.2 830.1) scale(1.07 1)" text-anchor="middle">0</text>
<text transform="translate(290 830.1) scale(1.07 1)" text-anchor="middle">1</text>
<text transform="translate(343.8 830.1) scale(1.07 1)" text-anchor="middle">2</text>
<text transform="translate(397.7 830.1) scale(1.07 1)" text-anchor="middle">3</text>
<text transform="translate(44.8 480.1) scale(1.07 1)" text-anchor="end">3</text>
<text transform="translate(44.8 532.6) scale(1.07 1)" text-anchor="end">2</text>
<text transform="translate(44.8 585.1) scale(1.07 1)" text-anchor="end">1</text>
<text transform="translate(44.8 637.6) scale(1.07 1)" text-anchor="end">0</text>
<text transform="translate(44.8 690.1) scale(1.07 1)" text-anchor="end">−1</text>
<text transform="translate(44.8 742.6) scale(1.07 1)" text-anchor="end">−2</text>
<text transform="translate(44.8 795.1) scale(1.07 1)" text-anchor="end">−3</text>
<text transform="translate(237 847.9) scale(1.07 1)" text-anchor="middle" class="lab">X [cm]</text>
<text transform="translate(15.1 631.1) rotate(-90) scale(1.07 1)" text-anchor="middle" class="lab">Y [cm]</text>
<rect x="968" y="6.4" width="29.7" height="808.7" fill="url(#cb)" stroke="#000" stroke-width="1.2"/>
<text transform="translate(1001.7 792.4) scale(1.07 1)">0.0</text>
<text transform="translate(1001.7 695.1) scale(1.07 1)">2.5</text>
<text transform="translate(1001.7 597.8) scale(1.07 1)">5.0</text>
<text transform="translate(1001.7 500.5) scale(1.07 1)">7.5</text>
<text transform="translate(1001.7 403.2) scale(1.07 1)">10.0</text>
<text transform="translate(1001.7 306) scale(1.07 1)">12.5</text>
<text transform="translate(1001.7 208.7) scale(1.07 1)">15.0</text>
<text transform="translate(1001.7 111.4) scale(1.07 1)">17.5</text>
<text transform="translate(1001.7 14.1) scale(1.07 1)">20.0</text>
<path d="M997.7 787.5 h-4.5 M997.7 690.5 h-4.5 M997.7 592.5 h-4.5 M997.7 495.5 h-4.5 M997.7 398.5 h-4.5 M997.7 300.5 h-4.5 M997.7 203.5 h-4.5 M997.7 106.5 h-4.5 M997.7 9.5 h-4.5" stroke="#000" stroke-width="0.8" fill="none"/>
<text transform="translate(1053.5 395.4) rotate(-90) scale(0.91 1)" text-anchor="middle" class="lab">Electric field, <tspan font-family="DejaVu Serif,Liberation Serif,serif" font-style="italic">E</tspan> [kV/cm]</text>
<path d="M606.3 734.2 L714 644.4 L712.3 472.5 L598.9 553.5 Z" fill="#f9f9f9"/>
<path d="M714 644.4 L888.8 694.7 L895.9 517.8 L712.3 472.5 Z" fill="#f2f2f2"/>
<path d="M606.3 734.2 L789.9 792.4 L888.8 694.7 L714 644.4 Z" fill="#f5f5f5"/>
<path d="M622 739.2 L728.9 648.7 L727.9 476.4 M799.3 783.1 L616.5 725.7 L609.6 545.9 M646.4 746.9 L752.2 655.4 L752.4 482.4 M813.6 769 L632 712.8 L626 534.2 M671.1 754.7 L775.8 662.2 L777.1 488.5 M827.5 755.2 L647.2 700.1 L642 522.7 M696.1 762.7 L799.6 669 L802.1 494.7 M841.2 741.7 L662.1 687.7 L657.7 511.5 M721.4 770.7 L823.7 676 L827.4 500.9 M854.6 728.5 L676.7 675.5 L673.1 500.5 M747.1 778.8 L848.1 683 L853 507.2 M867.8 715.5 L691 663.6 L688.1 489.7 M773 787 L872.8 690 L879 513.6 M880.7 702.8 L705.1 651.8 L702.9 479.2 M889.5 677.1 L713.8 627.3 L605.6 716.3 M890.4 655.7 L713.6 606.4 L604.7 694.4 M891.3 634 L713.4 585.4 L603.8 672.3 M892.1 612.1 L713.2 564 L602.8 649.9 M893 589.8 L713 542.4 L601.9 627.2 M893.9 567.3 L712.8 520.6 L601 604.2 M894.8 544.6 L712.5 498.5 L600 580.9 M895.7 521.5 L712.3 476.1 L599 557.3" fill="none" stroke="#e2e2e2" stroke-width="1.1"/>
<path d="M598.9 553.5 L712.3 472.5 L895.9 517.8 M714 644.4 L712.3 472.5" fill="none" stroke="#ececec" stroke-width="1"/>
<g fill="none" stroke-linecap="round" stroke-linejoin="round">
<path d="M749.5 538.8 L749.5 559.4" stroke="#810000" stroke-width="4"/>
<path d="M770.2 643.8 L771.5 644.8 L773.3 646.1 L775.5 647.7 L777.9 649.5 L780.2 651.3 L782.7 653.4 L785.6 655.9 L788.5 658.3 L791 660.5 L792.7 662" stroke="url(#g133)" stroke-width="4"/>
<path d="M759.5 642 L759 642.8 L758.2 643.8 L757.4 645.1 L756.5 646.4 L755.7 647.7 L755.1 648.9 L754.5 650.1 L754 651.4 L753.3 652.7 L752.5 654 L751.5 655.6 L750.2 657.3 L748.8 659.1 L747.7 660.6 L746.8 661.6" stroke="url(#g134)" stroke-width="4"/>
<path d="M758.2 647.7 L758.3 649.1 L758.5 651 L758.6 653.3 L758.8 655.8 L758.9 658.4 L758.9 661.4 L758.8 664.7 L758.8 668.1 L758.8 671.4 L758.9 674.2 L759.1 676.7 L759.3 679 L759.6 681.1 L759.9 682.8 L760.1 684" stroke="url(#g135)" stroke-width="4"/>
<path d="M773.4 657.2 L782.2 664.5" stroke="url(#g136)" stroke-width="4"/>
<path d="M765.2 667.9 L766.4 679.3" stroke="#ffd25b" stroke-width="4"/>
<path d="M754.4 656.5 L754.4 658 L754.4 660.1 L754.4 662.5 L754.4 665.2 L754.4 667.9 L754.5 671.1 L754.7 674.8 L754.8 678.5 L755 681.7 L755.1 684" stroke="url(#g137)" stroke-width="4"/>
<path d="M750.6 650.9 L748.7 660.3" stroke="#ffce59" stroke-width="4"/>
<path d="M760.2 673.9 L761.4 686.4" stroke="#ffce59" stroke-width="4"/>
<path d="M757.6 652.6 L757.7 655.2 L757.8 658.9 L757.9 663.2 L757.8 667.5 L757.6 671.4 L757.2 674.8 L756.5 678.4 L755.7 681.6 L755 684.4 L754.5 686.4" stroke="url(#g138)" stroke-width="4"/>
<path d="M762.7 667.6 L766.4 685.1" stroke="url(#g139)" stroke-width="4"/>
<path d="M745.7 617.7 L747.1 619.9 L749.2 623.1 L751.5 626.8 L753.6 630.2 L755.1 632.7 L756 634.1 L756.3 634.9 L756.5 635.3 L756.6 635.7 L757 636.3 L757.6 637.2 L758.4 638.1 L759.2 639.1 L760 640.2 L760.8 641.4 L761.3 642.7 L761.8 644.1 L762.2 645.7 L762.7 647.3 L763.3 649 L763.9 650.7 L764.5 652.5 L765.1 654.4 L766 656.4 L767.1 658.4 L768.6 660.8 L770.6 663.5 L772.6 666.2 L774.5 668.6 L775.9 670.5 L776.9 671.6 L777.5 672.3 L777.9 672.6 L778.2 672.8 L778.5 673" stroke="url(#g140)" stroke-width="4"/>
<path d="M767.1 658.4 L768 660.5 L769.3 663.5 L770.8 667 L772.3 670.3 L773.4 673 L774.2 675.1 L774.8 676.9 L775.3 678.4 L775.6 679.6 L775.9 680.6" stroke="url(#g141)" stroke-width="4"/>
<path d="M764.5 656.5 L765.4 658.6 L766.7 661.5 L768.1 664.9 L769.6 668 L770.9 670.5 L772 672.1 L773.2 673.4 L774.3 674.3 L775.3 675 L775.9 675.5" stroke="url(#g142)" stroke-width="4"/>
<path d="M747.6 637.5 L747 639.2 L746.2 641.6 L745.1 644.5 L743.9 647.4 L742.6 650.1 L741 652.8 L739 655.7 L736.9 658.5 L735.1 660.9 L733.9 662.6" stroke="url(#g143)" stroke-width="4"/>
<path d="M749.5 559.8 L748.7 561.7 L747.6 564.4 L746.3 567.5 L745 570.7 L743.9 573.8 L743 576.8 L742.2 579.7 L741.4 582.8 L740.8 585.8 L740.1 588.9 L739.5 592.2 L738.9 595.8 L738.4 599.4 L737.9 602.4 L737.6 604.5" stroke="#d02204" stroke-width="4"/>
<path d="M749.5 559.8 L750.5 561.3 L751.9 563.4 L753.5 565.9 L755.1 568.6 L756.4 571.3 L757.4 574.1 L758.2 577.1 L758.9 580.1 L759.5 583.3 L760.2 586.4 L760.8 589.7 L761.4 593.3 L761.9 596.8 L762.3 599.9 L762.7 602" stroke="url(#g144)" stroke-width="4"/>
<path d="M762.7 602 L767.7 605.8" stroke="#ff3401" stroke-width="4"/>
<path d="M767.7 607.6 L769.4 607.9 L772 608.2 L774.8 608.7 L777.7 609.3 L780.2 610.2 L782.2 611.3 L784.1 612.8 L785.9 614.4 L787.5 616.1 L789 617.7 L790.4 619.3 L791.7 621 L792.9 622.7 L793.9 624.2 L794.6 625.2" stroke="url(#g145)" stroke-width="4"/>
<path d="M792.6 623.8 L808.3 631.3" stroke="#ff8934" stroke-width="4"/>
<path d="M808.3 631.3 L825.2 634.5" stroke="url(#g146)" stroke-width="4"/>
<path d="M808.3 632 L816.4 643.2" stroke="url(#g147)" stroke-width="4"/>
<path d="M807.6 633.9 L810.8 647.6" stroke="url(#g148)" stroke-width="4"/>
<path d="M792.6 624.5 L792.7 626 L792.7 628.3 L792.9 630.9 L793.2 633.7 L793.9 636.4 L795 639.2 L796.5 642.4 L798.2 645.5 L799.7 648.2 L800.7 650.1" stroke="url(#g149)" stroke-width="4"/>
<path d="M737.6 605.1 L736.6 605.4 L735.2 605.6 L733.6 606 L731.8 606.5 L730.1 607 L728.3 607.8 L726.3 608.8 L724.3 609.8 L722.5 610.8 L721.3 611.4" stroke="#ffa343" stroke-width="4"/>
<path d="M738.2 605.1 L739.2 606.6 L740.7 608.6 L742.4 611.1 L743.9 613.9 L745.1 617 L745.9 620.9 L746.6 625.6 L747 630.4 L747.4 634.6 L747.6 637.5" stroke="url(#g150)" stroke-width="4"/>
<path d="M737 606.4 L736.4 607.9 L735.5 610.2 L734.6 612.7 L733.5 615.3 L732.6 617.7 L731.7 619.9 L730.6 622.2 L729.7 624.5 L728.8 626.3 L728.2 627.7" stroke="#ff3401" stroke-width="4"/>
<path d="M728.2 628.1 L726.8 629.7 L724.8 631.7 L722.5 634.2 L720 637 L717.6 640 L715.2 643.3 L712.7 646.9 L710.2 650.8 L707.6 654.8 L705 658.8 L702.2 663.3 L699.2 668.2 L696.2 673 L693.7 677.2 L691.9 680.1" stroke="url(#g151)" stroke-width="4"/>
<path d="M691.9 680.1 L690.2 681.4 L687.7 683.4 L684.9 685.6 L682.2 687.5 L680 688.9 L678.3 689.5 L676.9 689.6 L675.7 689.5 L674.7 689.3 L674 689.2" stroke="url(#g152)" stroke-width="4"/>
<path d="M680 688.9 L679 693" stroke="#ff4d10" stroke-width="4"/>
<path d="M691.9 680.7 L692.1 682.1 L692.5 683.9 L692.9 686.1 L693.2 688.2 L693.3 690.1 L693.2 691.9 L692.9 693.6 L692.5 695.3 L692.1 696.7 L691.9 697.7" stroke="url(#g153)" stroke-width="4"/>
<path d="M728.8 628.8 L729.2 630.1 L729.8 631.9 L730.3 634.2 L730.7 636.9 L730.7 640 L730.3 643.8 L729.4 648.3 L728.4 653 L727.4 657.9 L726.3 662.6 L725.3 667.2 L724.3 671.9 L723.2 676.6 L722.2 681 L721.3 685.1 L720.6 689 L720 692.9 L719.5 696.4 L719.1 699.3 L718.8 701.4" stroke="url(#g154)" stroke-width="4"/>
<path d="M717.6 702 L711.9 702.7" stroke="url(#g155)" stroke-width="4"/>
<path d="M718.2 702.7 L715.1 708.3" stroke="#ff5a18" stroke-width="4"/>
<path d="M718.8 702.7 L720.1 711.4" stroke="#ff470c" stroke-width="4"/>
<path d="M721.3 612 L712.6 612.7" stroke="#0000f7" stroke-width="4"/>
<path d="M712.6 612.7 L711.2 612.7 L709.3 612.7 L707 612.7 L704.7 612.9 L702.5 613.3 L700.4 613.9 L698.1 614.9 L696 615.9 L694.1 616.8 L692.8 617.4" stroke="url(#g156)" stroke-width="4"/>
<path d="M692.5 617.7 L691.5 618.9" stroke="url(#g157)" stroke-width="4"/>
<path d="M691 619.7 L689.4 622" stroke="url(#g158)" stroke-width="4"/>
<path d="M710.7 613.7 L709.7 614.7 L708.3 616.1 L706.6 617.8 L704.7 619.6 L702.5 621.4 L699.9 623.3 L696.8 625.5 L693.6 627.7 L690.7 629.5 L688.8 630.8" stroke="url(#g159)" stroke-width="4"/>
<path d="M721.3 612.7 L721.3 613.6 L721.2 614.9 L721.1 616.4 L720.7 618.2 L720.1 620.2 L718.8 622.7 L717 625.7 L715.1 628.8 L713.4 631.3 L712.6 632.7 L712.8 632.3 L714 630.4 L715.4 628.1 L716.3 626.4 L716.3 626.3 L715 628.2 L712.7 631.4 L710.1 635.4 L707.3 639.3 L705 642.6 L703.1 645.2 L701.2 647.7 L699.4 650 L698 651.8 L696.9 653.2" stroke="url(#g160)" stroke-width="4"/>
<path d="M748.3 667.6 L748.3 685.1" stroke="#ff9c40" stroke-width="4"/>
<path d="M748.3 685.8 L740.1 693.9" stroke="#ff8f38" stroke-width="4"/>
<path d="M748.3 686.4 L751.4 695.8" stroke="#ff8f38" stroke-width="4"/>
<path d="M747.6 650.7 L748.2 652.7 L749 655.4 L750 658.7 L750.8 662 L751.4 665.1 L751.6 668.1 L751.7 671.3 L751.6 674.4 L751.4 677 L751.4 678.9" stroke="url(#g161)" stroke-width="4"/>
<path d="M747.6 650.7 L746.1 652.3 L743.8 654.6 L741.3 657.3 L738.7 660.1 L736.4 662.6 L734.2 665.1 L732 667.7 L730 670.2 L728.2 672.3 L727 673.9" stroke="url(#g162)" stroke-width="4"/>
<path d="M727 673.9 L727 677" stroke="#ff5a18" stroke-width="4"/>
<path d="M768.9 681.4 L773.9 693.3" stroke="#ff470c" stroke-width="4"/>
<path d="M773.9 693.3 L772 701.4" stroke="#ff5414" stroke-width="4"/>
<path d="M773.9 693.3 L780.2 698.3" stroke="#ff5414" stroke-width="4"/>
<path d="M762.3 639.8 L763.3 642.6" stroke="#0000e9" stroke-width="2.9"/>
<path d="M772.1 660.3 L777.8 666" stroke="#0000e9" stroke-width="1.4"/>
<path stroke="none" d="M762.8 643.6 L764.5 643 L774.3 655.6 L772.6 657.3 L767.7 652.1 Z" fill="#0000e9"/>
<path d="M768.2 607.6 L767.8 609.1 L767.1 611.2 L766.4 613.7 L765.9 616.7 L765.7 620.1 L765.9 623.9 L766.3 628.4 L766.9 633.1 L767.6 637.9 L768.2 642.6 L768.7 647.5 L769.3 652.7 L769.9 657.8 L770.3 662.1 L770.7 665.2" stroke="url(#g163)" stroke-width="4"/>
<path d="M762.5 602.5 L761.9 604.6 L761 607.6 L759.9 611 L758.9 614.5 L758.2 617.6 L757.7 620.4 L757.4 623.4 L757.2 626.1 L757 628.4 L756.9 630.1" stroke="#ff3401" stroke-width="4"/>
<path d="M756.9 630.1 L746.3 648.9" stroke="#ff4d10" stroke-width="4"/>
</g>
<text transform="translate(616 764.7) scale(1.07 1)" text-anchor="middle">−3</text>
<text transform="translate(808.8 806.8) scale(1.07 1)" text-anchor="middle">−3</text>
<text transform="translate(640.4 772.4) scale(1.07 1)" text-anchor="middle">−2</text>
<text transform="translate(823.1 792.7) scale(1.07 1)" text-anchor="middle">−2</text>
<text transform="translate(665.1 780.2) scale(1.07 1)" text-anchor="middle">−1</text>
<text transform="translate(837 778.9) scale(1.07 1)" text-anchor="middle">−1</text>
<text transform="translate(690.1 788.2) scale(1.07 1)" text-anchor="middle">0</text>
<text transform="translate(850.7 765.4) scale(1.07 1)" text-anchor="middle">0</text>
<text transform="translate(715.4 796.2) scale(1.07 1)" text-anchor="middle">1</text>
<text transform="translate(864.1 752.2) scale(1.07 1)" text-anchor="middle">1</text>
<text transform="translate(741.1 804.3) scale(1.07 1)" text-anchor="middle">2</text>
<text transform="translate(877.3 739.2) scale(1.07 1)" text-anchor="middle">2</text>
<text transform="translate(767 812.5) scale(1.07 1)" text-anchor="middle">3</text>
<text transform="translate(890.2 726.5) scale(1.07 1)" text-anchor="middle">3</text>
<text transform="translate(904.5 685.2) scale(1.07 1)" text-anchor="middle">−7</text>
<text transform="translate(905.4 663.8) scale(1.07 1)" text-anchor="middle">−6</text>
<text transform="translate(906.3 642.1) scale(1.07 1)" text-anchor="middle">−5</text>
<text transform="translate(907.1 620.2) scale(1.07 1)" text-anchor="middle">−4</text>
<text transform="translate(908 597.9) scale(1.07 1)" text-anchor="middle">−3</text>
<text transform="translate(908.9 575.4) scale(1.07 1)" text-anchor="middle">−2</text>
<text transform="translate(909.8 552.7) scale(1.07 1)" text-anchor="middle">−1</text>
<text transform="translate(910.7 529.6) scale(1.07 1)" text-anchor="middle">0</text>
<path d="M606.3 734.2 L789.9 792.4 M789.9 792.4 L888.8 694.7 M888.8 694.7 L895.9 517.8 M619.9 740.9 L625.2 736.4 M802.7 784.2 L793.9 781.4 M644.4 748.7 L649.6 744.1 M817 770.1 L808.2 767.4 M669.1 756.5 L674.3 751.9 M830.9 756.3 L822.2 753.6 M694.1 764.5 L699.3 759.8 M844.6 742.7 L835.9 740.1 M719.5 772.5 L724.6 767.8 M858 729.4 L849.4 726.9 M745.1 780.7 L750.2 775.9 M871.1 716.4 L862.5 713.9 M771.1 788.9 L776.1 784.1 M883.9 703.7 L875.4 701.2 M893.5 676.6 L883.6 677.9 M894.3 655.1 L884.5 656.5 M895.2 633.5 L885.3 634.8 M896.1 611.5 L886.1 612.8 M897 589.3 L887 590.6 M897.9 566.8 L887.8 568.1 M898.9 544.1 L888.7 545.3 M899.8 521 L889.6 522.2" fill="none" stroke="#000" stroke-width="0.9"/>
<text transform="translate(684 797.9) rotate(17.6) scale(1.07 1)" text-anchor="middle" class="lab" y="5.2">X [cm]</text>
<text transform="translate(865.3 769.1) rotate(-44.6) scale(1.07 1)" text-anchor="middle" class="lab" y="5.2">Y [cm]</text>
<text transform="translate(926.7 602.8) rotate(-87.7) scale(1.07 1)" text-anchor="middle" class="lab" y="5.2">Z [cm]</text>
</svg>
</body></html>
